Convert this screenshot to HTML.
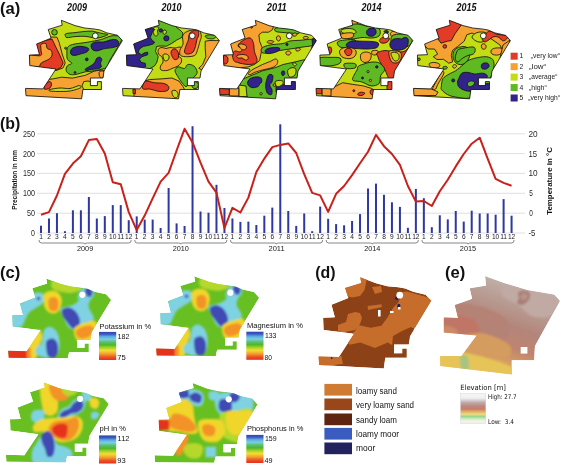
<!DOCTYPE html>
<html><head><meta charset="utf-8"><style>
html,body{margin:0;padding:0;background:#fff;}
svg{display:block;}
text{font-family:"Liberation Sans",Arial,sans-serif;}
.ax{font-size:8.2px;fill:#2a2a2a;}
.mo{font-size:6.6px;fill:#222;}
.yr{font-size:7.9px;fill:#1a1a1a;}
.at{font-size:7.3px;fill:#111;font-weight:bold;}
.lg{font-size:6.8px;fill:#222;}
.pl{font-size:16.8px;font-weight:bold;fill:#111;}
.ty{font-size:10.4px;font-weight:bold;font-style:italic;fill:#111;}
.bl{font-size:9.6px;fill:#111;}
.cb{font-size:7.3px;fill:#111;}
.el{font-size:7.3px;fill:#111;font-family:"DejaVu Sans",sans-serif;}
</style></head><body>
<svg width="568" height="465" viewBox="0 0 568 465">
<defs>
<clipPath id="c1"><path d="M61.3,20.3 L62.2,25.2 L48.2,29.5 L51.1,38.2 L36.6,44 L39.5,54.7 L29.4,55.1 L29.8,65.6 L56,69 L42.9,88.9 L25.5,88.4 L26,95.7 L81.6,98.8 L82.9,89.5 L101.4,89.5 L101.4,81.6 L97.4,81.6 L97.4,85.6 L90.4,85.6 L90.4,78 L103,78 L104,71 L122.4,40.6 L119,36.8 L117.6,35.3 L106.9,32.9 L100.1,30 L94.3,29 L84.7,28 L75,25.6Z"/></clipPath>
<clipPath id="c2"><path d="M158.3,20.3 L159.2,25.2 L145.2,29.5 L148.1,38.2 L133.6,44 L136.5,54.7 L126.4,55.1 L126.8,65.6 L153,69 L139.9,88.9 L122.5,88.4 L123,95.7 L178.6,98.8 L179.9,89.5 L198.4,89.5 L198.4,81.6 L194.4,81.6 L194.4,85.6 L187.4,85.6 L187.4,78 L200,78 L201,71 L219.4,40.6 L216,36.8 L214.6,35.3 L203.9,32.9 L197.1,30 L191.3,29 L181.7,28 L172,25.6Z"/></clipPath>
<clipPath id="c3"><path d="M255.3,20.3 L256.2,25.2 L242.2,29.5 L245.1,38.2 L230.6,44 L233.5,54.7 L223.4,55.1 L223.8,65.6 L250,69 L236.9,88.9 L219.5,88.4 L220,95.7 L275.6,98.8 L276.9,89.5 L295.4,89.5 L295.4,81.6 L291.4,81.6 L291.4,85.6 L284.4,85.6 L284.4,78 L297,78 L298,71 L316.4,40.6 L313,36.8 L311.6,35.3 L300.9,32.9 L294.1,30 L288.3,29 L278.7,28 L269,25.6Z"/></clipPath>
<clipPath id="c4"><path d="M351.8,20.3 L352.7,25.2 L338.7,29.5 L341.6,38.2 L327.1,44 L330,54.7 L319.9,55.1 L320.3,65.6 L346.5,69 L333.4,88.9 L316,88.4 L316.5,95.7 L372.1,98.8 L373.4,89.5 L391.9,89.5 L391.9,81.6 L387.9,81.6 L387.9,85.6 L380.9,85.6 L380.9,78 L393.5,78 L394.5,71 L412.9,40.6 L409.5,36.8 L408.1,35.3 L397.4,32.9 L390.6,30 L384.8,29 L375.2,28 L365.5,25.6Z"/></clipPath>
<clipPath id="c5"><path d="M449.3,20.3 L450.2,25.2 L436.2,29.5 L439.1,38.2 L424.6,44 L427.5,54.7 L417.4,55.1 L417.8,65.6 L444,69 L430.9,88.9 L413.5,88.4 L414,95.7 L469.6,98.8 L470.9,89.5 L489.4,89.5 L489.4,81.6 L485.4,81.6 L485.4,85.6 L478.4,85.6 L478.4,78 L491,78 L492,71 L510.4,40.6 L507,36.8 L505.6,35.3 L494.9,32.9 L488.1,30 L482.3,29 L472.7,28 L463,25.6Z"/></clipPath>
<filter id="bl" x="-20%" y="-20%" width="140%" height="140%"><feGaussianBlur stdDeviation="1.2"/></filter>
<filter id="bl2" x="-20%" y="-20%" width="140%" height="140%"><feGaussianBlur stdDeviation="1.0"/></filter>
<clipPath id="c6"><path d="M46.2,278.38 L47.16,283.59 L32.28,288.16 L35.36,297.41 L19.95,303.57 L23.03,314.95 L12.29,315.37 L12.72,326.53 L40.57,330.15 L26.64,351.3 L8.15,350.77 L8.68,357.68 L67.78,358.32 L69.16,351.94 L88.83,351.94 L88.83,343.54 L84.58,343.54 L84.58,347.79 L77.14,347.79 L77.14,339.71 L90.53,339.71 L91.59,332.27 L111.15,299.96 L107.54,295.92 L106.05,294.32 L94.67,291.77 L87.45,288.69 L81.28,287.63 L71.08,286.56 L60.76,284.01Z"/></clipPath>
<clipPath id="c7"><path d="M194.2,276.18 L195.16,281.39 L180.28,285.96 L183.36,295.21 L167.95,301.37 L171.03,312.75 L160.29,313.17 L160.72,324.33 L188.57,327.95 L174.64,349.1 L156.15,348.57 L156.68,355.48 L215.78,356.12 L217.16,349.74 L236.83,349.74 L236.83,341.34 L232.58,341.34 L232.58,345.59 L225.14,345.59 L225.14,337.51 L238.53,337.51 L239.59,330.07 L259.15,297.76 L255.54,293.72 L254.05,292.12 L242.67,289.57 L235.45,286.49 L229.28,285.43 L219.08,284.36 L208.76,281.81Z"/></clipPath>
<clipPath id="c8"><path d="M43.9,382.38 L44.86,387.59 L29.98,392.16 L33.06,401.41 L17.65,407.57 L20.73,418.95 L9.99,419.37 L10.42,430.53 L38.27,434.15 L24.34,455.3 L5.85,454.77 L6.38,461.68 L65.48,462.32 L66.86,455.94 L86.53,455.94 L86.53,447.54 L82.28,447.54 L82.28,451.79 L74.84,451.79 L74.84,443.71 L88.23,443.71 L89.29,436.27 L108.85,403.96 L105.24,399.92 L103.75,398.32 L92.37,395.77 L85.15,392.69 L78.98,391.63 L68.78,390.56 L58.46,388.01Z"/></clipPath>
<clipPath id="c9"><path d="M192.6,382.88 L193.56,388.09 L178.68,392.66 L181.76,401.91 L166.35,408.07 L169.43,419.45 L158.69,419.87 L159.12,431.03 L186.97,434.65 L173.04,455.8 L154.55,455.27 L155.08,462.18 L214.18,462.82 L215.56,456.44 L235.23,456.44 L235.23,448.04 L230.98,448.04 L230.98,452.29 L223.54,452.29 L223.54,444.21 L236.93,444.21 L237.99,436.77 L257.55,404.46 L253.94,400.42 L252.45,398.82 L241.07,396.27 L233.85,393.19 L227.68,392.13 L217.48,391.06 L207.16,388.51Z"/></clipPath>
<linearGradient id="cbar" x1="0" y1="0" x2="0" y2="1"><stop offset="0" stop-color="#3444b4"/><stop offset="0.08" stop-color="#3c58c0"/><stop offset="0.16" stop-color="#5aa8e0"/><stop offset="0.26" stop-color="#78d0e0"/><stop offset="0.36" stop-color="#5cc070"/><stop offset="0.46" stop-color="#4cb828"/><stop offset="0.56" stop-color="#a8d028"/><stop offset="0.66" stop-color="#f0e030"/><stop offset="0.78" stop-color="#f4a030"/><stop offset="0.9" stop-color="#ec5024"/><stop offset="1" stop-color="#e43020"/></linearGradient>
<clipPath id="c10"><path d="M360.19,277.21 L361.24,282.91 L344.96,287.91 L348.33,298.03 L331.47,304.77 L334.84,317.22 L323.09,317.68 L323.56,329.89 L354.03,333.85 L338.79,356.99 L318.56,356.41 L319.14,364.9 L383.8,368.5 L385.31,357.69 L406.83,357.69 L406.83,348.5 L402.18,348.5 L402.18,353.15 L394.04,353.15 L394.04,344.31 L408.69,344.31 L409.85,336.17 L431.25,300.82 L427.3,296.4 L425.67,294.65 L413.22,291.86 L405.32,288.49 L398.57,287.33 L387.41,286.16 L376.12,283.37Z"/></clipPath>
<linearGradient id="eleg" x1="0" y1="0" x2="0" y2="1"><stop offset="0" stop-color="#f6f6f6"/><stop offset="0.15" stop-color="#f2f0f0"/><stop offset="0.22" stop-color="#d8d4dc"/><stop offset="0.3" stop-color="#c4aaa8"/><stop offset="0.42" stop-color="#b98a80"/><stop offset="0.52" stop-color="#cc7c6a"/><stop offset="0.62" stop-color="#e6b864"/><stop offset="0.69" stop-color="#eedc80"/><stop offset="0.77" stop-color="#94d690"/><stop offset="0.83" stop-color="#c4e8b8"/><stop offset="0.9" stop-color="#eef2e2"/><stop offset="1" stop-color="#f2f2ea"/></linearGradient>
<linearGradient id="elev" x1="0.75" y1="0" x2="0.35" y2="1"><stop offset="0" stop-color="#c8bcb6"/><stop offset="0.25" stop-color="#b9a198"/><stop offset="0.5" stop-color="#b3857a"/><stop offset="0.68" stop-color="#bf8470"/><stop offset="0.82" stop-color="#d59e62"/><stop offset="1" stop-color="#e6c25a"/></linearGradient>
<clipPath id="c11"><path d="M485,276 L486,285.4 L469.6,288.2 L472.1,298.7 L454.8,305.1 L458,318 L443.8,317.4 L443.8,332.6 L476.7,335.4 L461.5,355.9 L440.2,355.9 L440.2,365.9 L511.8,374.4 L511.8,360.3 L534.2,360.3 L535,346 L559.9,301 L554.3,294.4 L527.4,289.9 L505.1,283.2Z"/></clipPath>
</defs>
<g clip-path="url(#c1)">
<path d="M61.3,20.3 L62.2,25.2 L48.2,29.5 L51.1,38.2 L36.6,44 L39.5,54.7 L29.4,55.1 L29.8,65.6 L56,69 L42.9,88.9 L25.5,88.4 L26,95.7 L81.6,98.8 L82.9,89.5 L101.4,89.5 L101.4,81.6 L97.4,81.6 L97.4,85.6 L90.4,85.6 L90.4,78 L103,78 L104,71 L122.4,40.6 L119,36.8 L117.6,35.3 L106.9,32.9 L100.1,30 L94.3,29 L84.7,28 L75,25.6Z" fill="#c3dc14"/>
<path d="M40,80 L52.4,79 L61.6,77.2 L72.5,78.1 L85.3,75.3 L94.5,71 L101.8,70 L106,71 L106,100 L20,100 L20,86Z" fill="#f6a232" stroke="#161310" stroke-width="0.85"/>
<path d="M50,89.5C51.67,89 56.67,88.17 60,88C63.33,87.83 66.83,88.9 70,88.5C73.17,88.1 77.25,85.72 79,85.6C80.75,85.48 82,86.9 80.5,87.8C79,88.7 73.75,90.38 70,91C66.25,91.62 61.33,91.5 58,91.5C54.67,91.5 51.33,91.33 50,91C48.67,90.67 48.33,90 50,89.5Z" fill="#c3dc14" stroke="#161310" stroke-width="0.85"/>
<path d="M44,88.8C43.5,88.03 45,85.22 46,84C47,82.78 49.08,81.33 50,81.5C50.92,81.67 51.67,83.82 51.5,85C51.33,86.18 50.25,87.97 49,88.6C47.75,89.23 44.5,89.57 44,88.8Z" fill="#e23b26" stroke="#161310" stroke-width="0.85"/>
<path d="M83.8,81.6 L88,81 L92,82 L98,80.5 L103,80 L103,90 L84,90 L82,86Z" fill="#c3dc14" stroke="#161310" stroke-width="0.85"/>
<path d="M99.2,72C99.62,71.17 101.12,70.92 102,71C102.88,71.08 104.25,71.5 104.5,72.5C104.75,73.5 104,76.03 103.5,77C103,77.97 102.17,78.47 101.5,78.3C100.83,78.13 99.88,77.05 99.5,76C99.12,74.95 98.78,72.83 99.2,72Z" fill="#f6a232" stroke="#161310" stroke-width="0.85"/>
<path d="M30,40 L52,37 L57,37.3 L59.2,42.6 L62.2,54 L65.2,63 L63,68 L56,70.5 L28,70.5Z" fill="#f6a232" stroke="#161310" stroke-width="0.85"/>
<path d="M34,42 L52.1,39.2 L56,47.4 L59.8,55.1 L63.2,62.9 L61,67.5 L56,70 L28,70 L28,42Z" fill="#e23b26" stroke="#161310" stroke-width="0.85"/>
<path d="M41,44.5C41.8,43.42 44.77,42.85 45.8,43.5C46.83,44.15 46.32,47.27 47.2,48.4C48.08,49.53 50.3,49.18 51.1,50.3C51.9,51.42 52.32,53.65 52,55.1C51.68,56.55 50.97,57.7 49.2,59C47.43,60.3 43.18,61.65 41.4,62.9C39.62,64.15 40.9,65.9 38.5,66.5C36.1,67.1 28.92,68.32 27,66.5C25.08,64.68 24.75,57.42 27,55.6C29.25,53.78 38.17,56.53 40.5,55.6C42.83,54.67 40.92,51.85 41,50C41.08,48.15 40.2,45.58 41,44.5Z" fill="#f6a232" stroke="#161310" stroke-width="0.85"/>
<circle cx="54.5" cy="32.3" r="2.8" fill="#5fb922" stroke="#161310" stroke-width="0.85"/>
<path d="M66.2,33.6C67.82,33.12 71.87,32.97 75,32.6C78.13,32.23 82.1,31.63 85,31.4C87.9,31.17 90.33,31.03 92.4,31.2C94.47,31.37 95.52,31.98 97.4,32.4C99.28,32.82 101.93,33.35 103.7,33.7C105.47,34.05 107.95,34.05 108,34.5C108.05,34.95 105.67,35.82 104,36.4C102.33,36.98 99.93,37.8 98,38C96.07,38.2 94.57,37.88 92.4,37.6C90.23,37.32 87.9,36.47 85,36.3C82.1,36.13 78,36.38 75,36.6C72,36.82 68.62,37.78 67,37.6C65.38,37.42 65.43,36.17 65.3,35.5C65.17,34.83 64.58,34.08 66.2,33.6Z" fill="#5fb922" stroke="#161310" stroke-width="0.85"/>
<path d="M67.5,47.5C68.43,46.05 69.58,45.32 72.5,44.5C75.42,43.68 81.68,43.13 85,42.6C88.32,42.07 89.7,41.82 92.4,41.3C95.1,40.78 98.9,40.12 101.2,39.5C103.5,38.88 104.4,38.22 106.2,37.6C108,36.98 109.93,36.03 112,35.8C114.07,35.57 117.02,35.5 118.6,36.2C120.18,36.9 121.93,37.7 121.5,40C121.07,42.3 117.92,46.67 116,50C114.08,53.33 111.5,57.17 110,60C108.5,62.83 108.47,65.43 107,67C105.53,68.57 103.83,68.68 101.2,69.4C98.57,70.12 93.9,70.88 91.2,71.3C88.5,71.72 87.5,71.38 85,71.9C82.5,72.42 78.7,73.98 76.2,74.4C73.7,74.82 71.67,75.02 70,74.4C68.33,73.78 66.62,72.15 66.2,70.7C65.78,69.25 66.55,66.95 67.5,65.7C68.45,64.45 71.9,64.25 71.9,63.2C71.9,62.15 68.33,61.07 67.5,59.4C66.67,57.73 66.9,55.18 66.9,53.2C66.9,51.22 66.57,48.95 67.5,47.5Z" fill="#5fb922" stroke="#161310" stroke-width="0.85"/>
<circle cx="65.6" cy="48.2" r="1" fill="#5fb922" stroke="#161310" stroke-width="0.85"/>
<path d="M70.6,51.3C70.82,50.27 71.15,49.03 72.5,48.2C73.85,47.37 76.62,46.5 78.7,46.3C80.78,46.1 83.33,46.58 85,47C86.67,47.42 88.4,47.97 88.7,48.8C89,49.63 88.05,51.17 86.8,52C85.55,52.83 83.17,53.23 81.2,53.8C79.23,54.37 76.67,55.3 75,55.4C73.33,55.5 71.93,55.08 71.2,54.4C70.47,53.72 70.38,52.33 70.6,51.3Z" fill="#31238a" stroke="#161310" stroke-width="0.85"/>
<path d="M91.8,43.8C92.63,42.97 94.22,42.3 96.2,42C98.18,41.7 101.42,42.32 103.7,42C105.98,41.68 107.93,40.52 109.9,40.1C111.87,39.68 114.05,39.18 115.5,39.5C116.95,39.82 118.18,40.97 118.6,42C119.02,43.03 119.03,44.77 118,45.7C116.97,46.63 114.78,47.08 112.4,47.6C110.02,48.12 106.2,48.25 103.7,48.8C101.2,49.35 99.17,50.68 97.4,50.9C95.63,51.12 94.13,50.75 93.1,50.1C92.07,49.45 91.42,48.05 91.2,47C90.98,45.95 90.97,44.63 91.8,43.8Z" fill="#31238a" stroke="#161310" stroke-width="0.85"/>
<path d="M96.8,58.2C97.52,57.62 99.07,57 99.9,57.2C100.73,57.4 101.7,58.4 101.8,59.4C101.9,60.4 100.6,61.95 100.5,63.2C100.4,64.45 101.72,65.97 101.2,66.9C100.68,67.83 99.07,68.38 97.4,68.8C95.73,69.22 93.07,69.08 91.2,69.4C89.33,69.72 87.13,70.8 86.2,70.7C85.27,70.6 84.97,69.53 85.6,68.8C86.23,68.07 88.65,67.13 90,66.3C91.35,65.47 92.77,64.73 93.7,63.8C94.63,62.87 95.08,61.63 95.6,60.7C96.12,59.77 96.08,58.78 96.8,58.2Z" fill="#31238a" stroke="#161310" stroke-width="0.85"/>
<circle cx="86.8" cy="59.4" r="1.4" fill="#31238a" stroke="#161310" stroke-width="0.85"/>
<circle cx="75" cy="72.5" r="0.9" fill="#31238a" stroke="#161310" stroke-width="0.85"/>

</g>
<path d="M61.3,20.3 L62.2,25.2 L48.2,29.5 L51.1,38.2 L36.6,44 L39.5,54.7 L29.4,55.1 L29.8,65.6 L56,69 L42.9,88.9 L25.5,88.4 L26,95.7 L81.6,98.8 L82.9,89.5 L101.4,89.5 L101.4,81.6 L97.4,81.6 L97.4,85.6 L90.4,85.6 L90.4,78 L103,78 L104,71 L122.4,40.6 L119,36.8 L117.6,35.3 L106.9,32.9 L100.1,30 L94.3,29 L84.7,28 L75,25.6Z" fill="none" stroke="#161310" stroke-width="0.85"/>
<circle cx="95.3" cy="35.8" r="2.9" fill="#fff" stroke="#161310" stroke-width="0.85"/>
<g clip-path="url(#c2)">
<path d="M158.3,20.3 L159.2,25.2 L145.2,29.5 L148.1,38.2 L133.6,44 L136.5,54.7 L126.4,55.1 L126.8,65.6 L153,69 L139.9,88.9 L122.5,88.4 L123,95.7 L178.6,98.8 L179.9,89.5 L198.4,89.5 L198.4,81.6 L194.4,81.6 L194.4,85.6 L187.4,85.6 L187.4,78 L200,78 L201,71 L219.4,40.6 L216,36.8 L214.6,35.3 L203.9,32.9 L197.1,30 L191.3,29 L181.7,28 L172,25.6Z" fill="#c3dc14"/>
<path d="M150,17 L176,17 L176,27 L180,30 L183,33 L182,37.4 L176.8,40 L171.6,43.5 L166.5,46.2 L160,46 L156.5,46.5 L155.6,51.5 L158.2,56.7 L157,62 L154.5,66 L150,68.5 L145,69 L120,69 L120,25Z" fill="#5fb922" stroke="#161310" stroke-width="0.85"/>
<path d="M153.5,28C154,27.3 155.13,26.88 156,26.8C156.87,26.72 158.45,26.8 158.7,27.5C158.95,28.2 157.62,29.83 157.5,31C157.38,32.17 158.25,33.67 158,34.5C157.75,35.33 156.67,36 156,36C155.33,36 154.5,35.33 154,34.5C153.5,33.67 153.08,32.08 153,31C152.92,29.92 153,28.7 153.5,28Z" fill="#c3dc14" stroke="#161310" stroke-width="0.85"/>
<path d="M163,31C163.25,30.33 164.42,29.92 165,30C165.58,30.08 166.42,30.83 166.5,31.5C166.58,32.17 166,33.58 165.5,34C165,34.42 163.92,34.5 163.5,34C163.08,33.5 162.75,31.67 163,31Z" fill="#c3dc14" stroke="#161310" stroke-width="0.85"/>
<circle cx="160.9" cy="30.5" r="1.7" fill="#31238a" stroke="#161310" stroke-width="0.85"/>
<circle cx="166.4" cy="38.3" r="2.6" fill="#31238a" stroke="#161310" stroke-width="0.85"/>
<path d="M140,24 L154.8,29.5 L152.3,32.2 L150.3,37.4 L152.3,40.6 L154.5,42 L153.5,43.8 L149.7,45.1 L143.2,46.4 L139.4,49 L138.1,52.2 L141.3,54.8 L144.5,52.8 L147.7,52.2 L147.7,54.8 L141.9,56.7 L139.4,59.3 L141.3,62.5 L145.2,63.2 L145.8,66.4 L143.2,67.7 L140,71 L118,71 L118,30Z" fill="#31238a" stroke="#161310" stroke-width="0.85"/>
<path d="M158.5,49C159.08,47.92 160.75,47.58 162,47.5C163.25,47.42 164.67,48.5 166,48.5C167.33,48.5 168.5,47.58 170,47.5C171.5,47.42 173.33,48.08 175,48C176.67,47.92 178.83,46.83 180,47C181.17,47.17 181.83,48 182,49C182.17,50 181.67,51.83 181,53C180.33,54.17 178,55.17 178,56C178,56.83 180.43,57 181,58C181.57,59 181.9,60.67 181.4,62C180.9,63.33 179.57,64.92 178,66C176.43,67.08 173.83,67.75 172,68.5C170.17,69.25 168.83,70.25 167,70.5C165.17,70.75 162.08,70.75 161,70C159.92,69.25 160.17,67.33 160.5,66C160.83,64.67 162.75,63.5 163,62C163.25,60.5 162.75,58.33 162,57C161.25,55.67 159.08,55.33 158.5,54C157.92,52.67 157.92,50.08 158.5,49Z" fill="#f6a232" stroke="#161310" stroke-width="0.85"/>
<path d="M163,55C163.25,53.92 165,53.83 166,54C167,54.17 168.67,55 169,56C169.33,57 168.75,59.25 168,60C167.25,60.75 165.33,61.33 164.5,60.5C163.67,59.67 162.75,56.08 163,55Z" fill="#c3dc14" stroke="#161310" stroke-width="0.85"/>
<path d="M182.6,36.1C183.07,34.13 184.4,33.17 185.8,32.2C187.2,31.23 188.85,30.73 191,30.3C193.15,29.87 196.98,28.63 198.7,29.6C200.42,30.57 201.08,34.17 201.3,36.1C201.52,38.03 200.65,38.83 200,41.2C199.35,43.57 198.27,47.93 197.4,50.3C196.53,52.67 196.52,54.33 194.8,55.4C193.08,56.47 189.47,56.7 187.1,56.7C184.73,56.7 181.78,56.52 180.6,55.4C179.42,54.28 179.6,51.9 180,50C180.4,48.1 182.57,46.32 183,44C183.43,41.68 182.13,38.07 182.6,36.1Z" fill="#f6a232" stroke="#161310" stroke-width="0.85"/>
<path d="M191.6,31.5C193,30.75 196.22,29.75 197.4,30.3C198.58,30.85 198.8,33.2 198.7,34.8C198.6,36.4 197.33,37.97 196.8,39.9C196.27,41.83 196.15,44.35 195.5,46.4C194.85,48.45 194.2,50.92 192.9,52.2C191.6,53.48 189.1,54.1 187.7,54.1C186.3,54.1 184.82,53.48 184.5,52.2C184.18,50.92 185.15,48.45 185.8,46.4C186.45,44.35 187.87,41.83 188.4,39.9C188.93,37.97 188.47,36.2 189,34.8C189.53,33.4 190.2,32.25 191.6,31.5Z" fill="#e23b26" stroke="#161310" stroke-width="0.85"/>
<path d="M172,50C172.67,49.33 174.08,48.83 175,49C175.92,49.17 176.88,50 177.5,51C178.12,52 178.7,53.67 178.7,55C178.7,56.33 178.28,58.28 177.5,59C176.72,59.72 174.92,59.8 174,59.3C173.08,58.8 172.5,57.05 172,56C171.5,54.95 171,54 171,53C171,52 171.33,50.67 172,50Z" fill="#e23b26" stroke="#161310" stroke-width="0.85"/>
<path d="M205.2,41.2 L210,40.5 L216.8,40.6 L221,40 L206,72 L198.7,68.3 L202.6,64.5 L205.8,56.7 L205.2,47.7Z" fill="#f6a232" stroke="#161310" stroke-width="0.85"/>
<path d="M205,36C205.33,35.38 208.25,34.88 210,34.8C211.75,34.72 214.83,34.87 215.5,35.5C216.17,36.13 215.25,38.1 214,38.6C212.75,39.1 209.5,38.93 208,38.5C206.5,38.07 204.67,36.62 205,36Z" fill="#5fb922" stroke="#161310" stroke-width="0.85"/>
<path d="M175,70.8C175,69.08 176.62,67.28 178.2,66.9C179.78,66.52 182.92,68.9 184.5,68.5C186.08,68.1 186.12,64.9 187.7,64.5C189.28,64.1 192.42,64.78 194,66.1C195.58,67.42 197.2,70.55 197.2,72.4C197.2,74.25 195.2,75.77 194,77.2C192.8,78.63 191.32,79.42 190,81C188.68,82.58 187.53,86.55 186.1,86.7C184.67,86.85 182.72,83.48 181.4,81.9C180.08,80.32 179.27,79.05 178.2,77.2C177.13,75.35 175,72.52 175,70.8Z" fill="#5fb922" stroke="#161310" stroke-width="0.85"/>
<path d="M137,84 L143.4,81.1 L149.7,79.6 L162.4,78.8 L171.9,78 L179,81.1 L183,86.7 L186,92 L186,100 L134,100 L134,86Z" fill="#f6a232" stroke="#161310" stroke-width="0.85"/>
<path d="M142.6,85.9C142.98,84.57 143.73,81.63 145.7,81.1C147.67,80.57 151.35,82.3 154.4,82.7C157.45,83.1 161.62,82.83 164,83.5C166.38,84.17 168.18,85.5 168.7,86.7C169.22,87.9 168.68,89.92 167.1,90.7C165.52,91.48 162.1,91.67 159.2,91.4C156.3,91.13 152.33,89.48 149.7,89.1C147.07,88.72 144.58,89.63 143.4,89.1C142.22,88.57 142.22,87.23 142.6,85.9Z" fill="#e23b26" stroke="#161310" stroke-width="0.85"/>
<path d="M133,89 L135.4,89.5 L135.4,93.8 L133,93.5Z" fill="#e23b26" stroke="#161310" stroke-width="0.85"/>
<path d="M172,91C172.5,90.12 174.97,90.03 176,90.7C177.03,91.37 178.2,93.82 178.2,95C178.2,96.18 176.87,97.63 176,97.8C175.13,97.97 173.67,97.13 173,96C172.33,94.87 171.5,91.88 172,91Z" fill="#c3dc14" stroke="#161310" stroke-width="0.85"/>
<path d="M191,82C191.33,80.92 193.75,81.17 195,81.5C196.25,81.83 198.17,82.92 198.5,84C198.83,85.08 197.92,87.33 197,88C196.08,88.67 194,89 193,88C192,87 190.67,83.08 191,82Z" fill="#5fb922" stroke="#161310" stroke-width="0.85"/>

</g>
<path d="M158.3,20.3 L159.2,25.2 L145.2,29.5 L148.1,38.2 L133.6,44 L136.5,54.7 L126.4,55.1 L126.8,65.6 L153,69 L139.9,88.9 L122.5,88.4 L123,95.7 L178.6,98.8 L179.9,89.5 L198.4,89.5 L198.4,81.6 L194.4,81.6 L194.4,85.6 L187.4,85.6 L187.4,78 L200,78 L201,71 L219.4,40.6 L216,36.8 L214.6,35.3 L203.9,32.9 L197.1,30 L191.3,29 L181.7,28 L172,25.6Z" fill="none" stroke="#161310" stroke-width="0.85"/>
<circle cx="192.3" cy="35.8" r="2.9" fill="#fff" stroke="#161310" stroke-width="0.85"/>
<g clip-path="url(#c3)">
<path d="M255.3,20.3 L256.2,25.2 L242.2,29.5 L245.1,38.2 L230.6,44 L233.5,54.7 L223.4,55.1 L223.8,65.6 L250,69 L236.9,88.9 L219.5,88.4 L220,95.7 L275.6,98.8 L276.9,89.5 L295.4,89.5 L295.4,81.6 L291.4,81.6 L291.4,85.6 L284.4,85.6 L284.4,78 L297,78 L298,71 L316.4,40.6 L313,36.8 L311.6,35.3 L300.9,32.9 L294.1,30 L288.3,29 L278.7,28 L269,25.6Z" fill="#c3dc14"/>
<path d="M250,17 L275,22 L272.5,29.6 L268.6,32.2 L262.2,32.2 L258.9,34.8 L259.6,41.2 L262.2,47.7 L260.9,54.1 L259.6,60.6 L254.4,64.5 L248,67 L215,70 L215,20Z" fill="#f6a232" stroke="#161310" stroke-width="0.85"/>
<circle cx="240" cy="29.5" r="1.1" fill="#5fb922" stroke="#161310" stroke-width="0.85"/>
<circle cx="251.5" cy="27.3" r="0.9" fill="#5fb922" stroke="#161310" stroke-width="0.85"/>
<path d="M240.9,41.9C242.57,40.57 246.18,38.43 248,38C249.82,37.57 250.83,38.12 251.8,39.3C252.77,40.48 253.37,43.07 253.8,45.1C254.23,47.13 253.87,49.13 254.4,51.5C254.93,53.87 256.78,57.35 257,59.3C257.22,61.25 256.98,62.33 255.7,63.2C254.42,64.07 251.45,64.4 249.3,64.5C247.15,64.6 244.75,64.13 242.8,63.8C240.85,63.47 239.1,63.03 237.6,62.5C236.1,61.97 234.65,62 233.8,60.6C232.95,59.2 232.28,55.7 232.5,54.1C232.72,52.5 233.85,51.35 235.1,51C236.35,50.65 238.85,52.33 240,52C241.15,51.67 242.33,50 242,49C241.67,48 238.18,47.18 238,46C237.82,44.82 239.23,43.23 240.9,41.9Z" fill="#e23b26" stroke="#161310" stroke-width="0.85"/>
<path d="M238.5,44.8C238.75,43.97 241.67,43.92 243,44.2C244.33,44.48 246.17,45.62 246.5,46.5C246.83,47.38 245.83,49.05 245,49.5C244.17,49.95 242.58,49.98 241.5,49.2C240.42,48.42 238.25,45.63 238.5,44.8Z" fill="#f6a232" stroke="#161310" stroke-width="0.85"/>
<path d="M237,55.5C237.83,54.92 241.25,54.42 243,54.5C244.75,54.58 246.67,55.25 247.5,56C248.33,56.75 248.33,58.33 248,59C247.67,59.67 246.5,60.17 245.5,60C244.5,59.83 243.25,58.33 242,58C240.75,57.67 238.83,58.42 238,58C237.17,57.58 236.17,56.08 237,55.5Z" fill="#f6a232" stroke="#161310" stroke-width="0.85"/>
<path d="M223.5,56C224.08,54.83 226.25,55.92 227,56.5C227.75,57.08 228,58.38 228,59.5C228,60.62 227.75,62.53 227,63.2C226.25,63.87 224.08,64.7 223.5,63.5C222.92,62.3 222.92,57.17 223.5,56Z" fill="#e23b26" stroke="#161310" stroke-width="0.85"/>
<path d="M275,28.5C276.17,27.75 280,27.08 283,27C286,26.92 290.17,27.42 293,28C295.83,28.58 299.17,29.58 300,30.5C300.83,31.42 299.67,33.08 298,33.5C296.33,33.92 292.5,33.17 290,33C287.5,32.83 285.33,32.75 283,32.5C280.67,32.25 277.33,32.17 276,31.5C274.67,30.83 273.83,29.25 275,28.5Z" fill="#5fb922" stroke="#161310" stroke-width="0.85"/>
<path d="M262,48C263.33,46.75 266.5,45.75 270,45C273.5,44.25 279.67,44.17 283,43.5C286.33,42.83 287.17,41.53 290,41C292.83,40.47 296,40.55 300,40.3C304,40.05 311.67,38.72 314,39.5C316.33,40.28 315.83,43.75 314,45C312.17,46.25 307,46.33 303,47C299,47.67 293.83,48.42 290,49C286.17,49.58 283.67,49.83 280,50.5C276.33,51.17 271,52.67 268,53C265,53.33 263,53.33 262,52.5C261,51.67 260.67,49.25 262,48Z" fill="#5fb922" stroke="#161310" stroke-width="0.85"/>
<path d="M265.5,50C266.17,49.17 268.08,48.42 270,48C271.92,47.58 275.33,47.33 277,47.5C278.67,47.67 280.17,48.25 280,49C279.83,49.75 277.67,51.25 276,52C274.33,52.75 271.67,53.33 270,53.5C268.33,53.67 266.75,53.58 266,53C265.25,52.42 264.83,50.83 265.5,50Z" fill="#31238a" stroke="#161310" stroke-width="0.85"/>
<path d="M312,39 L316,38 L316,50 L311,50 L312.5,45Z" fill="#31238a" stroke="#161310" stroke-width="0.85"/>
<path d="M267.3,41.5C267.63,41.1 268.92,40.62 270,40.6C271.08,40.58 273.47,40.97 273.8,41.4C274.13,41.83 272.97,42.93 272,43.2C271.03,43.47 268.78,43.28 268,43C267.22,42.72 266.97,41.9 267.3,41.5Z" fill="#f6a232" stroke="#161310" stroke-width="0.85"/>
<path d="M276.5,37C276.83,36.3 278.33,35.55 279,35.8C279.67,36.05 280.5,37.63 280.5,38.5C280.5,39.37 279.58,40.75 279,41C278.42,41.25 277.42,40.67 277,40C276.58,39.33 276.17,37.7 276.5,37Z" fill="#f6a232" stroke="#161310" stroke-width="0.85"/>
<path d="M286,52C286.42,51.42 288.17,50.83 289,51C289.83,51.17 291,52.33 291,53C291,53.67 289.75,54.75 289,55C288.25,55.25 287,55 286.5,54.5C286,54 285.58,52.58 286,52Z" fill="#f6a232" stroke="#161310" stroke-width="0.85"/>
<path d="M296,48.5C296.5,48.08 298.25,47.83 299,48C299.75,48.17 300.67,49 300.5,49.5C300.33,50 298.75,50.83 298,51C297.25,51.17 296.33,50.92 296,50.5C295.67,50.08 295.5,48.92 296,48.5Z" fill="#f6a232" stroke="#161310" stroke-width="0.85"/>
<path d="M303.5,37C304,36.58 306.17,36.33 307,36.5C307.83,36.67 308.67,37.53 308.5,38C308.33,38.47 306.75,39.13 306,39.3C305.25,39.47 304.42,39.38 304,39C303.58,38.62 303,37.42 303.5,37Z" fill="#f6a232" stroke="#161310" stroke-width="0.85"/>
<path d="M292.5,34C292.92,33.53 294.75,32.92 295.5,33C296.25,33.08 297,34 297,34.5C297,35 296.17,35.78 295.5,36C294.83,36.22 293.5,36.13 293,35.8C292.5,35.47 292.08,34.47 292.5,34Z" fill="#f6a232" stroke="#161310" stroke-width="0.85"/>
<circle cx="287" cy="44.5" r="1.1" fill="#31238a" stroke="#161310" stroke-width="0.85"/>
<path d="M248.3,73.2C248.82,72.28 251.42,70.35 253,69.3C254.58,68.25 256.22,67.7 257.8,66.9C259.38,66.1 260.38,65.43 262.5,64.5C264.62,63.57 268.38,62.22 270.5,61.3C272.62,60.38 274.02,59.13 275.2,59C276.38,58.87 277.33,59.58 277.6,60.5C277.87,61.42 277.73,63.3 276.8,64.5C275.87,65.7 274.38,66.78 272,67.7C269.62,68.62 265.4,69.22 262.5,70C259.6,70.78 256.7,71.6 254.6,72.4C252.5,73.2 250.95,74.67 249.9,74.8C248.85,74.93 247.78,74.12 248.3,73.2Z" fill="#f6a232" stroke="#161310" stroke-width="0.85"/>
<path d="M240,80 L243.5,78.8 L253,74.8 L262.5,70.8 L275.2,67.7 L283.1,64.5 L294.2,62.1 L305,59.5 L310,59 L300,100 L250,100 L246.7,96 L240,88Z" fill="#5fb922" stroke="#161310" stroke-width="0.85"/>
<path d="M247.5,83.5C247.25,82.05 248.45,79.9 249.9,78.8C251.35,77.7 254.35,77.03 256.2,76.9C258.05,76.77 260.08,77.17 261,78C261.92,78.83 261.97,80.85 261.7,81.9C261.43,82.95 260.05,83.5 259.4,84.3C258.75,85.1 259.13,86.17 257.8,86.7C256.47,87.23 253.12,88.03 251.4,87.5C249.68,86.97 247.75,84.95 247.5,83.5Z" fill="#31238a" stroke="#161310" stroke-width="0.85"/>
<path d="M268.9,74.8C269.95,74 272.28,74.42 272.8,75.6C273.32,76.78 272.52,80.32 272,81.9C271.48,83.48 269.7,83.77 269.7,85.1C269.7,86.43 271.73,88.32 272,89.9C272.27,91.48 272.08,94.08 271.3,94.6C270.52,95.12 268.23,94.32 267.3,93C266.37,91.68 265.83,88.8 265.7,86.7C265.57,84.6 265.97,82.38 266.5,80.4C267.03,78.42 267.85,75.6 268.9,74.8Z" fill="#31238a" stroke="#161310" stroke-width="0.85"/>
<path d="M281.5,72C281.75,71.23 283.47,70.67 284,71C284.53,71.33 284.95,73.23 284.7,74C284.45,74.77 283.03,75.93 282.5,75.6C281.97,75.27 281.25,72.77 281.5,72Z" fill="#31238a" stroke="#161310" stroke-width="0.85"/>
<path d="M276,85.5 L285,84.5 L290,82 L297,80 L298,92 L276,92Z" fill="#31238a" stroke="#161310" stroke-width="0.85"/>
<path d="M275.2,82C275.53,80.95 277.68,80.48 279,80.4C280.32,80.32 282.6,80.73 283.1,81.5C283.6,82.27 283.02,84.13 282,85C280.98,85.87 278.13,87.2 277,86.7C275.87,86.2 274.87,83.05 275.2,82Z" fill="#c3dc14" stroke="#161310" stroke-width="0.85"/>
<circle cx="274.4" cy="85.1" r="1.3" fill="#f6a232" stroke="#161310" stroke-width="0.85"/>
<path d="M287.9,70C288.57,68.95 290.68,67.87 292,67.7C293.32,67.53 295.3,67.78 295.8,69C296.3,70.22 295.97,73.63 295,75C294.03,76.37 291.17,77.37 290,77.2C288.83,77.03 288.35,75.2 288,74C287.65,72.8 287.23,71.05 287.9,70Z" fill="#c3dc14" stroke="#161310" stroke-width="0.85"/>
<path d="M292.6,63.5C292.68,62.97 294.33,62.73 295,62.9C295.67,63.07 296.68,63.97 296.6,64.5C296.52,65.03 295.17,66.27 294.5,66.1C293.83,65.93 292.52,64.03 292.6,63.5Z" fill="#c3dc14" stroke="#161310" stroke-width="0.85"/>
<circle cx="261" cy="93.8" r="1.2" fill="#c3dc14" stroke="#161310" stroke-width="0.85"/>
<path d="M238.8,85 L246,86 L247,96.5 L238.8,96.5Z" fill="#c3dc14" stroke="#161310" stroke-width="0.85"/>
<path d="M229.3,88 L238.8,88.3 L238.8,96 L229.3,96Z" fill="#f6a232" stroke="#161310" stroke-width="0.85"/>
<path d="M219,88.5 L229.3,89 L229.3,94.6 L219,94.6Z" fill="#e23b26" stroke="#161310" stroke-width="0.85"/>

</g>
<path d="M255.3,20.3 L256.2,25.2 L242.2,29.5 L245.1,38.2 L230.6,44 L233.5,54.7 L223.4,55.1 L223.8,65.6 L250,69 L236.9,88.9 L219.5,88.4 L220,95.7 L275.6,98.8 L276.9,89.5 L295.4,89.5 L295.4,81.6 L291.4,81.6 L291.4,85.6 L284.4,85.6 L284.4,78 L297,78 L298,71 L316.4,40.6 L313,36.8 L311.6,35.3 L300.9,32.9 L294.1,30 L288.3,29 L278.7,28 L269,25.6Z" fill="none" stroke="#161310" stroke-width="0.85"/>
<circle cx="289.3" cy="35.8" r="2.9" fill="#fff" stroke="#161310" stroke-width="0.85"/>
<g clip-path="url(#c4)">
<path d="M351.8,20.3 L352.7,25.2 L338.7,29.5 L341.6,38.2 L327.1,44 L330,54.7 L319.9,55.1 L320.3,65.6 L346.5,69 L333.4,88.9 L316,88.4 L316.5,95.7 L372.1,98.8 L373.4,89.5 L391.9,89.5 L391.9,81.6 L387.9,81.6 L387.9,85.6 L380.9,85.6 L380.9,78 L393.5,78 L394.5,71 L412.9,40.6 L409.5,36.8 L408.1,35.3 L397.4,32.9 L390.6,30 L384.8,29 L375.2,28 L365.5,25.6Z" fill="#c3dc14"/>
<path d="M350,18 L358,20 L357,25.7 L351.7,25.7Z" fill="#f6a232" stroke="#161310" stroke-width="0.85"/>
<path d="M349,25C351.33,24.33 355.17,23.83 358,24C360.83,24.17 363.17,25.5 366,26C368.83,26.5 372.67,26.33 375,27C377.33,27.67 379.33,28.5 380,30C380.67,31.5 380.33,34.67 379,36C377.67,37.33 374.83,37.75 372,38C369.17,38.25 365.17,37.33 362,37.5C358.83,37.67 355.83,38.92 353,39C350.17,39.08 347.17,38.83 345,38C342.83,37.17 340.17,35.67 340,34C339.83,32.33 342.5,29.5 344,28C345.5,26.5 346.67,25.67 349,25Z" fill="#5fb922" stroke="#161310" stroke-width="0.85"/>
<path d="M341,30C341.67,29.17 345.83,28.58 348,28.5C350.17,28.42 352.67,28.83 354,29.5C355.33,30.17 356.33,31.75 356,32.5C355.67,33.25 354,33.83 352,34C350,34.17 345.83,34.17 344,33.5C342.17,32.83 340.33,30.83 341,30Z" fill="#c3dc14" stroke="#161310" stroke-width="0.85"/>
<path d="M340.7,34.5C341.37,33.67 343.95,33.22 346,33C348.05,32.78 351.83,32.53 353,33.2C354.17,33.87 353.83,36.1 353,37C352.17,37.9 349.83,38.43 348,38.6C346.17,38.77 343.22,38.68 342,38C340.78,37.32 340.03,35.33 340.7,34.5Z" fill="#f6a232" stroke="#161310" stroke-width="0.85"/>
<path d="M366.5,31.5C366.83,30.3 368.58,28.72 370,28.3C371.42,27.88 374,28.22 375,29C376,29.78 376.33,31.82 376,33C375.67,34.18 374.33,35.68 373,36.1C371.67,36.52 369.08,36.27 368,35.5C366.92,34.73 366.17,32.7 366.5,31.5Z" fill="#31238a" stroke="#161310" stroke-width="0.85"/>
<path d="M384,31.5C384,30.97 385.75,30.22 386.5,30.3C387.25,30.38 388.5,31.47 388.5,32C388.5,32.53 387.25,33.58 386.5,33.5C385.75,33.42 384,32.03 384,31.5Z" fill="#31238a" stroke="#161310" stroke-width="0.85"/>
<path d="M337.5,42C338.33,40.83 342.08,40.33 345,40C347.92,39.67 353.23,39.17 355,40C356.77,40.83 356.43,43.72 355.6,45C354.77,46.28 352.6,47.37 350,47.7C347.4,48.03 342.08,47.95 340,47C337.92,46.05 336.67,43.17 337.5,42Z" fill="#5fb922" stroke="#161310" stroke-width="0.85"/>
<path d="M346.5,44C347.17,42.92 349.42,41.47 352,41C354.58,40.53 358.67,41.12 362,41.2C365.33,41.28 369.3,41.2 372,41.5C374.7,41.8 377.37,42 378.2,43C379.03,44 378.7,46.5 377,47.5C375.3,48.5 371.5,48.83 368,49C364.5,49.17 359.33,48.75 356,48.5C352.67,48.25 349.58,48.25 348,47.5C346.42,46.75 345.83,45.08 346.5,44Z" fill="#31238a" stroke="#161310" stroke-width="0.85"/>
<path d="M379.5,40C379.92,39.15 381.4,37.73 383,37.4C384.6,37.07 388.27,37.32 389.1,38C389.93,38.68 388.85,40.63 388,41.5C387.15,42.37 385.25,43.03 384,43.2C382.75,43.37 381.25,43.03 380.5,42.5C379.75,41.97 379.08,40.85 379.5,40Z" fill="#e23b26" stroke="#161310" stroke-width="0.85"/>
<path d="M390.4,33.5C390.57,32.42 392.48,31.15 394,30.9C395.52,30.65 398.83,31.15 399.5,32C400.17,32.85 399.08,35.1 398,36C396.92,36.9 394.27,37.82 393,37.4C391.73,36.98 390.23,34.58 390.4,33.5Z" fill="#f6a232" stroke="#161310" stroke-width="0.85"/>
<path d="M392,36C393.67,34.17 398.67,34 402,34C405.33,34 410.67,34.17 412,36C413.33,37.83 412,43 410,45C408,47 403,48 400,48C397,48 393.33,47 392,45C390.67,43 390.33,37.83 392,36Z" fill="#5fb922" stroke="#161310" stroke-width="0.85"/>
<path d="M389.8,44C389.97,42.42 391.63,40.42 393,39.5C394.37,38.58 396.5,38.58 398,38.5C399.5,38.42 401,39.18 402,39C403,38.82 403.03,37.48 404,37.4C404.97,37.32 407.13,37.4 407.8,38.5C408.47,39.6 408.47,42.33 408,44C407.53,45.67 406.67,47.45 405,48.5C403.33,49.55 400.17,50.22 398,50.3C395.83,50.38 393.37,50.05 392,49C390.63,47.95 389.63,45.58 389.8,44Z" fill="#31238a" stroke="#161310" stroke-width="0.85"/>
<path d="M327.8,48C328.22,47.17 329.85,46.67 330.5,47C331.15,47.33 331.7,48.92 331.7,50C331.7,51.08 331.12,53.17 330.5,53.5C329.88,53.83 328.45,52.92 328,52C327.55,51.08 327.38,48.83 327.8,48Z" fill="#e23b26" stroke="#161310" stroke-width="0.85"/>
<path d="M340,50C340.83,48.92 343,47.83 345,47.5C347,47.17 350.17,47.42 352,48C353.83,48.58 355.5,49.67 356,51C356.5,52.33 356,54.73 355,56C354,57.27 352,58.35 350,58.6C348,58.85 344.67,58.27 343,57.5C341.33,56.73 340.5,55.25 340,54C339.5,52.75 339.17,51.08 340,50Z" fill="#f6a232" stroke="#161310" stroke-width="0.85"/>
<path d="M344.6,51C344.77,49.82 346.82,48.47 348,48.3C349.18,48.13 351.2,48.97 351.7,50C352.2,51.03 351.78,53.6 351,54.5C350.22,55.4 348.07,55.98 347,55.4C345.93,54.82 344.43,52.18 344.6,51Z" fill="#e23b26" stroke="#161310" stroke-width="0.85"/>
<path d="M361,54C361.83,52.67 364.33,52 366,52C367.67,52 370.33,52.67 371,54C371.67,55.33 371,58.58 370,60C369,61.42 366.5,62.5 365,62.5C363.5,62.5 361.67,61.42 361,60C360.33,58.58 360.17,55.33 361,54Z" fill="#f6a232" stroke="#161310" stroke-width="0.85"/>
<path d="M372,51C372.83,50.42 375.92,50.17 377,50.5C378.08,50.83 378.83,52.25 378.5,53C378.17,53.75 376.08,54.83 375,55C373.92,55.17 372.5,54.67 372,54C371.5,53.33 371.17,51.58 372,51Z" fill="#f6a232" stroke="#161310" stroke-width="0.85"/>
<path d="M320,58C321.67,56.73 326.67,57.4 330,57.4C333.33,57.4 338.33,57.07 340,58C341.67,58.93 341.33,61.72 340,63C338.67,64.28 335.33,65.37 332,65.7C328.67,66.03 322,66.28 320,65C318,63.72 318.33,59.27 320,58Z" fill="#5fb922" stroke="#161310" stroke-width="0.85"/>
<path d="M344,64C344.67,63.15 348.07,63.2 350,63.2C351.93,63.2 354.77,63.2 355.6,64C356.43,64.8 356.6,67.28 355,68C353.4,68.72 347.83,68.97 346,68.3C344.17,67.63 343.33,64.85 344,64Z" fill="#5fb922" stroke="#161310" stroke-width="0.85"/>
<path d="M377,53C378.17,51.92 382,50.67 385,50.5C388,50.33 391.67,51.92 395,52C398.33,52.08 402,52.33 405,51C408,49.67 414.17,39.17 413,44C411.83,48.83 401.83,74 398,80C394.17,86 392.17,81.67 390,80C387.83,78.33 386.67,73 385,70C383.33,67 381.17,64.17 380,62C378.83,59.83 378.5,58.5 378,57C377.5,55.5 375.83,54.08 377,53Z" fill="#e23b26" stroke="#161310" stroke-width="0.85"/>
<path d="M389,51.5C389.83,49.83 394,50.75 396,51C398,51.25 400.25,51.5 401,53C401.75,54.5 401.33,58.33 400.5,60C399.67,61.67 397.58,62.83 396,63C394.42,63.17 392.17,62.92 391,61C389.83,59.08 388.17,53.17 389,51.5Z" fill="#f6a232" stroke="#161310" stroke-width="0.85"/>
<path d="M391,53C391.58,52.08 394.67,52.17 396,52.5C397.33,52.83 398.58,53.83 399,55C399.42,56.17 399.17,58.5 398.5,59.5C397.83,60.5 396,61.25 395,61C394,60.75 393.17,59.33 392.5,58C391.83,56.67 390.42,53.92 391,53Z" fill="#c3dc14" stroke="#161310" stroke-width="0.85"/>
<path d="M357,70C357.78,68.42 357.18,67.15 358.5,66.1C359.82,65.05 362.78,64.37 364.9,63.7C367.02,63.03 368.83,62.23 371.2,62.1C373.57,61.97 376.85,61.7 379.1,62.9C381.35,64.1 384.43,67.18 384.7,69.3C384.97,71.42 381.63,73.23 380.7,75.6C379.77,77.97 380.68,81.78 379.1,83.5C377.52,85.22 374.1,86.17 371.2,85.9C368.3,85.63 364.73,82.82 361.7,81.9C358.67,80.98 354.32,81.45 353,80.4C351.68,79.35 353.13,77.33 353.8,75.6C354.47,73.87 356.22,71.58 357,70Z" fill="#5fb922" stroke="#161310" stroke-width="0.85"/>
<circle cx="376.8" cy="66.9" r="1.2" fill="#31238a" stroke="#161310" stroke-width="0.85"/>
<circle cx="362.5" cy="78" r="1" fill="#31238a" stroke="#161310" stroke-width="0.85"/>
<circle cx="368" cy="71.6" r="1.1" fill="#f6a232" stroke="#161310" stroke-width="0.85"/>
<circle cx="370.4" cy="80.4" r="1.1" fill="#f6a232" stroke="#161310" stroke-width="0.85"/>
<path d="M331,88 L334.8,86.7 L342.7,82.7 L352.2,84.3 L363.3,85.9 L371.2,88.3 L376,91 L378,100 L330,100Z" fill="#f6a232" stroke="#161310" stroke-width="0.85"/>
<path d="M357.7,93.8C358.12,93.3 359.8,92.3 361,92.2C362.2,92.1 364.73,92.67 364.9,93.2C365.07,93.73 363.07,95.07 362,95.4C360.93,95.73 359.22,95.47 358.5,95.2C357.78,94.93 357.28,94.3 357.7,93.8Z" fill="#e23b26" stroke="#161310" stroke-width="0.85"/>
<circle cx="353.8" cy="90.7" r="1" fill="#e23b26" stroke="#161310" stroke-width="0.85"/>
<path d="M370.4,90.5C370.9,89.82 373.07,89.22 373.6,89.9C374.13,90.58 374.1,93.92 373.6,94.6C373.1,95.28 371.13,94.68 370.6,94C370.07,93.32 369.9,91.18 370.4,90.5Z" fill="#e23b26" stroke="#161310" stroke-width="0.85"/>
<path d="M315.5,88.3 L322.1,88.5 L322.1,93.8 L315.5,93.8Z" fill="#e23b26" stroke="#161310" stroke-width="0.85"/>
<path d="M322.1,88.3 L331,88.3 L331,96 L322.1,96Z" fill="#f6a232" stroke="#161310" stroke-width="0.85"/>
<path d="M387,79 L393,79 L393,90 L387,90Z" fill="#e23b26" stroke="#161310" stroke-width="0.85"/>

</g>
<path d="M351.8,20.3 L352.7,25.2 L338.7,29.5 L341.6,38.2 L327.1,44 L330,54.7 L319.9,55.1 L320.3,65.6 L346.5,69 L333.4,88.9 L316,88.4 L316.5,95.7 L372.1,98.8 L373.4,89.5 L391.9,89.5 L391.9,81.6 L387.9,81.6 L387.9,85.6 L380.9,85.6 L380.9,78 L393.5,78 L394.5,71 L412.9,40.6 L409.5,36.8 L408.1,35.3 L397.4,32.9 L390.6,30 L384.8,29 L375.2,28 L365.5,25.6Z" fill="none" stroke="#161310" stroke-width="0.85"/>
<circle cx="385.8" cy="35.8" r="2.9" fill="#fff" stroke="#161310" stroke-width="0.85"/>
<g clip-path="url(#c5)">
<path d="M449.3,20.3 L450.2,25.2 L436.2,29.5 L439.1,38.2 L424.6,44 L427.5,54.7 L417.4,55.1 L417.8,65.6 L444,69 L430.9,88.9 L413.5,88.4 L414,95.7 L469.6,98.8 L470.9,89.5 L489.4,89.5 L489.4,81.6 L485.4,81.6 L485.4,85.6 L478.4,85.6 L478.4,78 L491,78 L492,71 L510.4,40.6 L507,36.8 L505.6,35.3 L494.9,32.9 L488.1,30 L482.3,29 L472.7,28 L463,25.6Z" fill="#f6a232"/>
<path d="M448.7,18 L462,24 L455.2,33.5 L451.3,40.6 L447.4,41.2 L441,43.2 L437.7,38.6 L436,28Z" fill="#e23b26" stroke="#161310" stroke-width="0.85"/>
<path d="M420,44 L424.2,45.1 L428,49 L434.5,49 L437.7,54.1 L433.2,56.7 L437,59.5 L443.5,59.3 L448.7,63.2 L452.6,61.9 L451.3,55.4 L452.6,50.3 L457.7,46.4 L464.2,41.2 L466.8,34.8 L472,33 L480,37 L490,38 L500,45 L505,56 L500,100 L400,100 L400,44Z" fill="#c3dc14" stroke="#161310" stroke-width="0.85"/>
<circle cx="444.8" cy="46.4" r="1.8" fill="#e23b26" stroke="#161310" stroke-width="0.85"/>
<path d="M454.5,50C455.67,48.33 458.08,47.5 460,47C461.92,46.5 464.33,46.17 466,47C467.67,47.83 469.67,49.83 470,52C470.33,54.17 469.33,57.92 468,60C466.67,62.08 464,64 462,64.5C460,65 457.5,64.25 456,63C454.5,61.75 453.25,59.17 453,57C452.75,54.83 453.33,51.67 454.5,50Z" fill="#5fb922" stroke="#161310" stroke-width="0.85"/>
<path d="M457.7,50.3C458.98,48.68 460.32,48.85 462.9,48.3C465.48,47.75 471.15,46.67 473.2,47C475.25,47.33 475.2,49.12 475.2,50.3C475.2,51.48 474.38,53.25 473.2,54.1C472.02,54.95 469.82,54.75 468.1,55.4C466.38,56.05 464.63,56.92 462.9,58C461.17,59.08 458.98,61.9 457.7,61.9C456.42,61.9 455.2,59.93 455.2,58C455.2,56.07 456.42,51.92 457.7,50.3Z" fill="#5fb922" stroke="#161310" stroke-width="0.85"/>
<path d="M429.4,63.5C430.07,62.67 433.28,62.33 435,62.5C436.72,62.67 439.2,63.63 439.7,64.5C440.2,65.37 439.45,67.2 438,67.7C436.55,68.2 432.43,68.2 431,67.5C429.57,66.8 428.73,64.33 429.4,63.5Z" fill="#f6a232" stroke="#161310" stroke-width="0.85"/>
<path d="M452.6,66C452.77,65.37 454.35,64.42 455,64.5C455.65,64.58 456.67,65.87 456.5,66.5C456.33,67.13 454.65,68.38 454,68.3C453.35,68.22 452.43,66.63 452.6,66Z" fill="#f6a232" stroke="#161310" stroke-width="0.85"/>
<circle cx="419" cy="59.3" r="1.3" fill="#5fb922" stroke="#161310" stroke-width="0.85"/>
<path d="M442.9,67C443.15,66.53 445.25,66.23 446,66.4C446.75,66.57 447.65,67.53 447.4,68C447.15,68.47 445.25,69.37 444.5,69.2C443.75,69.03 442.65,67.47 442.9,67Z" fill="#5fb922" stroke="#161310" stroke-width="0.85"/>
<path d="M472,37C472,35.67 474.5,33.83 476,33C477.5,32.17 479.33,32 481,32C482.67,32 485,32 486,33C487,34 487.67,36.5 487,38C486.33,39.5 483.83,41.5 482,42C480.17,42.5 477.67,41.83 476,41C474.33,40.17 472,38.33 472,37Z" fill="#c3dc14" stroke="#161310" stroke-width="0.85"/>
<path d="M482.3,38.6C482.73,36.98 485.9,33.38 487.4,32.2C488.9,31.02 489.78,31.18 491.3,31.5C492.82,31.82 494.78,33.55 496.5,34.1C498.22,34.65 499.68,34.48 501.6,34.8C503.52,35.12 507.35,35.13 508,36C508.65,36.87 506.45,39.23 505.5,40C504.55,40.77 503.38,41.03 502.3,40.6C501.22,40.17 500.4,38.05 499,37.4C497.6,36.75 495.62,36.27 493.9,36.7C492.18,37.13 490.22,39.13 488.7,40C487.18,40.87 485.87,42.13 484.8,41.9C483.73,41.67 481.87,40.22 482.3,38.6Z" fill="#e23b26" stroke="#161310" stroke-width="0.85"/>
<path d="M481.5,45C481.83,44.22 483.23,43.63 484,43.8C484.77,43.97 485.93,45.13 486.1,46C486.27,46.87 485.68,48.58 485,49C484.32,49.42 482.58,49.17 482,48.5C481.42,47.83 481.17,45.78 481.5,45Z" fill="#f6a232" stroke="#161310" stroke-width="0.85"/>
<path d="M491.3,50C491.97,49 494.22,48.25 496,48C497.78,47.75 500.83,47.83 502,48.5C503.17,49.17 503.67,50.92 503,52C502.33,53.08 499.83,54.67 498,55C496.17,55.33 493.12,54.83 492,54C490.88,53.17 490.63,51 491.3,50Z" fill="#f6a232" stroke="#161310" stroke-width="0.85"/>
<path d="M503,45 L510,40 L508,60 L500,58Z" fill="#f6a232" stroke="#161310" stroke-width="0.85"/>
<path d="M468.1,60.6C470.15,59.52 472.8,58.65 475.8,58C478.8,57.35 483.3,56.48 486.1,56.7C488.9,56.92 491.28,58.08 492.6,59.3C493.92,60.52 493.78,62.72 494,64C494.22,65.28 494.13,65.63 493.9,67C493.67,68.37 493.25,70.03 492.6,72.2C491.95,74.37 490.77,77.03 490,80C489.23,82.97 491.33,87 488,90C484.67,93 475.42,96.83 470,98C464.58,99.17 459.23,97.57 455.5,97C451.77,96.43 449.9,95.78 447.6,94.6C445.3,93.42 442.75,91.22 441.7,89.9C440.65,88.58 441.1,88.55 441.3,86.7C441.5,84.85 441.58,80.92 442.9,78.8C444.22,76.68 447.1,75.33 449.2,74C451.3,72.67 453.12,72.38 455.5,70.8C457.88,69.22 461.4,66.2 463.5,64.5C465.6,62.8 466.05,61.68 468.1,60.6Z" fill="#5fb922" stroke="#161310" stroke-width="0.85"/>
<path d="M481.5,65C481.83,64.08 482.92,63.25 484,63C485.08,62.75 487.17,62.92 488,63.5C488.83,64.08 489.33,65.58 489,66.5C488.67,67.42 487.17,68.67 486,69C484.83,69.33 482.75,69.17 482,68.5C481.25,67.83 481.17,65.92 481.5,65Z" fill="#31238a" stroke="#161310" stroke-width="0.85"/>
<path d="M458.7,78.8C459.43,77.33 460.32,74.27 461.9,73.2C463.48,72.13 466.1,72.27 468.2,72.4C470.3,72.53 472.12,73.87 474.5,74C476.88,74.13 480.38,72.93 482.5,73.2C484.62,73.47 486.68,74.4 487.2,75.6C487.72,76.8 486.38,79 485.6,80.4C484.82,81.8 481.77,83.4 482.5,84C483.23,84.6 488.42,82.83 490,84C491.58,85.17 495.1,89.77 492,91C488.9,92.23 476.15,91.58 471.4,91.4C466.65,91.22 465.62,90.68 463.5,89.9C461.38,89.12 459.7,88.02 458.7,86.7C457.7,85.38 457.5,83.32 457.5,82C457.5,80.68 457.97,80.27 458.7,78.8Z" fill="#31238a" stroke="#161310" stroke-width="0.85"/>
<path d="M467.4,83.5C467.65,82.57 469.32,81.35 470.5,81.1C471.68,80.85 474.08,81.27 474.5,82C474.92,82.73 473.92,84.72 473,85.5C472.08,86.28 469.93,87.03 469,86.7C468.07,86.37 467.15,84.43 467.4,83.5Z" fill="#5fb922" stroke="#161310" stroke-width="0.85"/>
<circle cx="453.2" cy="80.4" r="1.5" fill="#31238a" stroke="#161310" stroke-width="0.85"/>
<path d="M442.1,71.6C443.22,70.6 444.38,71.93 443.7,74C443.02,76.07 439.33,81.5 438,84C436.67,86.5 436.62,88.17 435.7,89C434.78,89.83 432.28,90.5 432.5,89C432.72,87.5 435.4,82.9 437,80C438.6,77.1 440.98,72.6 442.1,71.6Z" fill="#f6a232" stroke="#161310" stroke-width="0.85"/>
<path d="M410,88.3 L431,88.8 L438.1,92 L436,95.5 L410,95.5Z" fill="#f6a232" stroke="#161310" stroke-width="0.85"/>

</g>
<path d="M449.3,20.3 L450.2,25.2 L436.2,29.5 L439.1,38.2 L424.6,44 L427.5,54.7 L417.4,55.1 L417.8,65.6 L444,69 L430.9,88.9 L413.5,88.4 L414,95.7 L469.6,98.8 L470.9,89.5 L489.4,89.5 L489.4,81.6 L485.4,81.6 L485.4,85.6 L478.4,85.6 L478.4,78 L491,78 L492,71 L510.4,40.6 L507,36.8 L505.6,35.3 L494.9,32.9 L488.1,30 L482.3,29 L472.7,28 L463,25.6Z" fill="none" stroke="#161310" stroke-width="0.85"/>
<circle cx="483.3" cy="35.8" r="2.9" fill="#fff" stroke="#161310" stroke-width="0.85"/>
<line x1="37" y1="133.8" x2="525" y2="133.8" stroke="#c6c6c6" stroke-width="0.55"/>
<line x1="37" y1="153.6" x2="525" y2="153.6" stroke="#c6c6c6" stroke-width="0.55"/>
<line x1="37" y1="173.4" x2="525" y2="173.4" stroke="#c6c6c6" stroke-width="0.55"/>
<line x1="37" y1="193.3" x2="525" y2="193.3" stroke="#c6c6c6" stroke-width="0.55"/>
<line x1="37" y1="213.2" x2="525" y2="213.2" stroke="#c6c6c6" stroke-width="0.55"/>
<line x1="37" y1="233" x2="525" y2="233" stroke="#c6c6c6" stroke-width="0.55"/>
<rect x="40" y="225.7" width="2" height="7.3" fill="#2e38a0"/>
<rect x="47.98" y="218.5" width="2" height="14.5" fill="#2e38a0"/>
<rect x="55.95" y="213.2" width="2" height="19.8" fill="#2e38a0"/>
<rect x="63.93" y="231.2" width="2" height="1.8" fill="#2e38a0"/>
<rect x="71.9" y="210.3" width="2" height="22.7" fill="#2e38a0"/>
<rect x="79.88" y="210.3" width="2" height="22.7" fill="#2e38a0"/>
<rect x="87.86" y="197" width="2" height="36" fill="#2e38a0"/>
<rect x="95.83" y="218.5" width="2" height="14.5" fill="#2e38a0"/>
<rect x="103.81" y="216.1" width="2" height="16.9" fill="#2e38a0"/>
<rect x="111.78" y="205.1" width="2" height="27.9" fill="#2e38a0"/>
<rect x="119.76" y="205.1" width="2" height="27.9" fill="#2e38a0"/>
<rect x="127.74" y="220.2" width="2" height="12.8" fill="#2e38a0"/>
<rect x="135.71" y="216.4" width="2" height="16.6" fill="#2e38a0"/>
<rect x="143.69" y="219.6" width="2" height="13.4" fill="#2e38a0"/>
<rect x="151.66" y="219.6" width="2" height="13.4" fill="#2e38a0"/>
<rect x="159.64" y="228" width="2" height="5" fill="#2e38a0"/>
<rect x="167.62" y="188" width="2" height="45" fill="#2e38a0"/>
<rect x="175.59" y="223.4" width="2" height="9.6" fill="#2e38a0"/>
<rect x="183.57" y="226" width="2" height="7" fill="#2e38a0"/>
<rect x="191.54" y="126.2" width="2" height="106.8" fill="#2e38a0"/>
<rect x="199.52" y="211.5" width="2" height="21.5" fill="#2e38a0"/>
<rect x="207.5" y="212.7" width="2" height="20.3" fill="#2e38a0"/>
<rect x="215.47" y="184.8" width="2" height="48.2" fill="#2e38a0"/>
<rect x="223.45" y="208" width="2" height="25" fill="#2e38a0"/>
<rect x="231.42" y="218.5" width="2" height="14.5" fill="#2e38a0"/>
<rect x="239.4" y="221.9" width="2" height="11.1" fill="#2e38a0"/>
<rect x="247.38" y="221.6" width="2" height="11.4" fill="#2e38a0"/>
<rect x="255.35" y="225" width="2" height="8" fill="#2e38a0"/>
<rect x="263.33" y="215.7" width="2" height="17.3" fill="#2e38a0"/>
<rect x="271.3" y="207.6" width="2" height="25.4" fill="#2e38a0"/>
<rect x="279.28" y="124.3" width="2" height="108.7" fill="#2e38a0"/>
<rect x="287.26" y="211" width="2" height="22" fill="#2e38a0"/>
<rect x="295.23" y="225.9" width="2" height="7.1" fill="#2e38a0"/>
<rect x="303.21" y="213.5" width="2" height="19.5" fill="#2e38a0"/>
<rect x="311.18" y="231.2" width="2" height="1.8" fill="#2e38a0"/>
<rect x="319.16" y="206.6" width="2" height="26.4" fill="#2e38a0"/>
<rect x="327.14" y="218.8" width="2" height="14.2" fill="#2e38a0"/>
<rect x="335.11" y="224.1" width="2" height="8.9" fill="#2e38a0"/>
<rect x="343.09" y="225.3" width="2" height="7.7" fill="#2e38a0"/>
<rect x="351.06" y="221" width="2" height="12" fill="#2e38a0"/>
<rect x="359.04" y="214.1" width="2" height="18.9" fill="#2e38a0"/>
<rect x="367.02" y="188.5" width="2" height="44.5" fill="#2e38a0"/>
<rect x="374.99" y="183.6" width="2" height="49.4" fill="#2e38a0"/>
<rect x="382.97" y="194.8" width="2" height="38.2" fill="#2e38a0"/>
<rect x="390.94" y="202.3" width="2" height="30.7" fill="#2e38a0"/>
<rect x="398.92" y="206.9" width="2" height="26.1" fill="#2e38a0"/>
<rect x="406.9" y="227.8" width="2" height="5.2" fill="#2e38a0"/>
<rect x="414.87" y="188.9" width="2" height="44.1" fill="#2e38a0"/>
<rect x="422.85" y="198.2" width="2" height="34.8" fill="#2e38a0"/>
<rect x="430.82" y="227.2" width="2" height="5.8" fill="#2e38a0"/>
<rect x="438.8" y="215.3" width="2" height="17.7" fill="#2e38a0"/>
<rect x="446.78" y="219.4" width="2" height="13.6" fill="#2e38a0"/>
<rect x="454.75" y="211" width="2" height="22" fill="#2e38a0"/>
<rect x="462.73" y="221.6" width="2" height="11.4" fill="#2e38a0"/>
<rect x="470.7" y="210.7" width="2" height="22.3" fill="#2e38a0"/>
<rect x="478.68" y="213.5" width="2" height="19.5" fill="#2e38a0"/>
<rect x="486.66" y="213.5" width="2" height="19.5" fill="#2e38a0"/>
<rect x="494.63" y="214.7" width="2" height="18.3" fill="#2e38a0"/>
<rect x="502.61" y="199.1" width="2" height="33.9" fill="#2e38a0"/>
<rect x="510.58" y="215.7" width="2" height="17.3" fill="#2e38a0"/>
<polyline points="41,214.7 48.98,212.1 56.95,195.5 64.93,173.8 72.9,163.6 80.88,156.3 88.86,140.1 96.83,138.9 104.81,153.4 112.78,182.2 120.76,184.2 128.74,212.1 136.71,230.1 144.69,215.6 152.66,198.4 160.64,181.6 168.62,172.9 176.59,150.5 184.57,128.8 192.54,142.4 200.52,162.7 208.5,181.6 216.47,192.6 224.45,228 232.42,207.9 240.4,212.5 248.38,197.6 256.35,172 264.33,158.6 272.3,147.1 280.28,144.9 288.26,143.4 296.23,153 304.21,174.2 312.18,192.9 320.16,195.4 328.14,211.9 336.11,193.8 344.09,186 352.06,175.1 360.04,163.3 368.02,151.8 375.99,134.9 383.97,146.2 391.94,154 399.92,164.9 407.9,186 415.87,201.6 423.85,201 431.82,206 439.8,191.3 447.78,179.8 455.75,166.4 463.73,154 471.7,143.7 479.68,137.7 487.66,158.6 495.63,178.9 503.61,182.9 511.58,185.7" fill="none" stroke="#c8201a" stroke-width="2" stroke-linejoin="round"/>
<text x="35" y="136.75" class="ax" text-anchor="end" textLength="12" lengthAdjust="spacingAndGlyphs">250</text>
<text x="35" y="156.55" class="ax" text-anchor="end" textLength="12" lengthAdjust="spacingAndGlyphs">200</text>
<text x="35" y="176.35" class="ax" text-anchor="end" textLength="12" lengthAdjust="spacingAndGlyphs">150</text>
<text x="35" y="196.25" class="ax" text-anchor="end" textLength="12" lengthAdjust="spacingAndGlyphs">100</text>
<text x="35" y="216.15" class="ax" text-anchor="end" textLength="8" lengthAdjust="spacingAndGlyphs">50</text>
<text x="35" y="235.95" class="ax" text-anchor="end" textLength="3.9" lengthAdjust="spacingAndGlyphs">0</text>
<text x="528.5" y="136.75" class="ax" textLength="9.2" lengthAdjust="spacingAndGlyphs">20</text>
<text x="528.5" y="156.55" class="ax" textLength="8.6" lengthAdjust="spacingAndGlyphs">15</text>
<text x="528.5" y="176.35" class="ax" textLength="9.2" lengthAdjust="spacingAndGlyphs">10</text>
<text x="529.2" y="196.25" class="ax" textLength="3.6" lengthAdjust="spacingAndGlyphs">5</text>
<text x="529.2" y="216.15" class="ax" textLength="3.6" lengthAdjust="spacingAndGlyphs">0</text>
<text x="528.5" y="235.95" class="ax" textLength="7" lengthAdjust="spacingAndGlyphs">-5</text>
<text x="41" y="238.9" class="mo" text-anchor="middle">1</text>
<text x="48.98" y="238.9" class="mo" text-anchor="middle">2</text>
<text x="56.95" y="238.9" class="mo" text-anchor="middle">3</text>
<text x="64.93" y="238.9" class="mo" text-anchor="middle">4</text>
<text x="72.9" y="238.9" class="mo" text-anchor="middle">5</text>
<text x="80.88" y="238.9" class="mo" text-anchor="middle">6</text>
<text x="88.86" y="238.9" class="mo" text-anchor="middle">7</text>
<text x="96.83" y="238.9" class="mo" text-anchor="middle">8</text>
<text x="104.81" y="238.9" class="mo" text-anchor="middle">9</text>
<text x="112.78" y="238.9" class="mo" text-anchor="middle">10</text>
<text x="120.76" y="238.9" class="mo" text-anchor="middle">11</text>
<text x="128.74" y="238.9" class="mo" text-anchor="middle">12</text>
<text x="136.71" y="238.9" class="mo" text-anchor="middle">1</text>
<text x="144.69" y="238.9" class="mo" text-anchor="middle">2</text>
<text x="152.66" y="238.9" class="mo" text-anchor="middle">3</text>
<text x="160.64" y="238.9" class="mo" text-anchor="middle">4</text>
<text x="168.62" y="238.9" class="mo" text-anchor="middle">5</text>
<text x="176.59" y="238.9" class="mo" text-anchor="middle">6</text>
<text x="184.57" y="238.9" class="mo" text-anchor="middle">7</text>
<text x="192.54" y="238.9" class="mo" text-anchor="middle">8</text>
<text x="200.52" y="238.9" class="mo" text-anchor="middle">9</text>
<text x="208.5" y="238.9" class="mo" text-anchor="middle">10</text>
<text x="216.47" y="238.9" class="mo" text-anchor="middle">11</text>
<text x="224.45" y="238.9" class="mo" text-anchor="middle">12</text>
<text x="232.42" y="238.9" class="mo" text-anchor="middle">1</text>
<text x="240.4" y="238.9" class="mo" text-anchor="middle">2</text>
<text x="248.38" y="238.9" class="mo" text-anchor="middle">3</text>
<text x="256.35" y="238.9" class="mo" text-anchor="middle">4</text>
<text x="264.33" y="238.9" class="mo" text-anchor="middle">5</text>
<text x="272.3" y="238.9" class="mo" text-anchor="middle">6</text>
<text x="280.28" y="238.9" class="mo" text-anchor="middle">7</text>
<text x="288.26" y="238.9" class="mo" text-anchor="middle">8</text>
<text x="296.23" y="238.9" class="mo" text-anchor="middle">9</text>
<text x="304.21" y="238.9" class="mo" text-anchor="middle">10</text>
<text x="312.18" y="238.9" class="mo" text-anchor="middle">11</text>
<text x="320.16" y="238.9" class="mo" text-anchor="middle">12</text>
<text x="328.14" y="238.9" class="mo" text-anchor="middle">1</text>
<text x="336.11" y="238.9" class="mo" text-anchor="middle">2</text>
<text x="344.09" y="238.9" class="mo" text-anchor="middle">3</text>
<text x="352.06" y="238.9" class="mo" text-anchor="middle">4</text>
<text x="360.04" y="238.9" class="mo" text-anchor="middle">5</text>
<text x="368.02" y="238.9" class="mo" text-anchor="middle">6</text>
<text x="375.99" y="238.9" class="mo" text-anchor="middle">7</text>
<text x="383.97" y="238.9" class="mo" text-anchor="middle">8</text>
<text x="391.94" y="238.9" class="mo" text-anchor="middle">9</text>
<text x="399.92" y="238.9" class="mo" text-anchor="middle">10</text>
<text x="407.9" y="238.9" class="mo" text-anchor="middle">11</text>
<text x="415.87" y="238.9" class="mo" text-anchor="middle">12</text>
<text x="423.85" y="238.9" class="mo" text-anchor="middle">1</text>
<text x="431.82" y="238.9" class="mo" text-anchor="middle">2</text>
<text x="439.8" y="238.9" class="mo" text-anchor="middle">3</text>
<text x="447.78" y="238.9" class="mo" text-anchor="middle">4</text>
<text x="455.75" y="238.9" class="mo" text-anchor="middle">5</text>
<text x="463.73" y="238.9" class="mo" text-anchor="middle">6</text>
<text x="471.7" y="238.9" class="mo" text-anchor="middle">7</text>
<text x="479.68" y="238.9" class="mo" text-anchor="middle">8</text>
<text x="487.66" y="238.9" class="mo" text-anchor="middle">9</text>
<text x="495.63" y="238.9" class="mo" text-anchor="middle">10</text>
<text x="503.61" y="238.9" class="mo" text-anchor="middle">11</text>
<text x="511.58" y="238.9" class="mo" text-anchor="middle">12</text>
<path d="M39,240 Q39,243 41.5,243 L83.12,243 Q85.12,243 85.12,244.2 Q85.12,243 87.12,243 L128.74,243 Q131.24,243 131.24,240" fill="none" stroke="#555" stroke-width="0.7"/>
<text x="85.12" y="250.6" class="yr" text-anchor="middle" textLength="16.2" lengthAdjust="spacingAndGlyphs">2009</text>
<path d="M134.71,240 Q134.71,243 137.21,243 L178.83,243 Q180.83,243 180.83,244.2 Q180.83,243 182.83,243 L224.45,243 Q226.95,243 226.95,240" fill="none" stroke="#555" stroke-width="0.7"/>
<text x="180.83" y="250.6" class="yr" text-anchor="middle" textLength="16.2" lengthAdjust="spacingAndGlyphs">2010</text>
<path d="M230.42,240 Q230.42,243 232.92,243 L274.54,243 Q276.54,243 276.54,244.2 Q276.54,243 278.54,243 L320.16,243 Q322.66,243 322.66,240" fill="none" stroke="#555" stroke-width="0.7"/>
<text x="276.54" y="250.6" class="yr" text-anchor="middle" textLength="16.2" lengthAdjust="spacingAndGlyphs">2011</text>
<path d="M326.14,240 Q326.14,243 328.64,243 L370.25,243 Q372.25,243 372.25,244.2 Q372.25,243 374.25,243 L415.87,243 Q418.37,243 418.37,240" fill="none" stroke="#555" stroke-width="0.7"/>
<text x="372.25" y="250.6" class="yr" text-anchor="middle" textLength="16.2" lengthAdjust="spacingAndGlyphs">2014</text>
<path d="M421.85,240 Q421.85,243 424.35,243 L465.97,243 Q467.97,243 467.97,244.2 Q467.97,243 469.97,243 L511.58,243 Q514.08,243 514.08,240" fill="none" stroke="#555" stroke-width="0.7"/>
<text x="467.97" y="250.6" class="yr" text-anchor="middle" textLength="16.2" lengthAdjust="spacingAndGlyphs">2015</text>
<text transform="translate(16.8,179.9) rotate(-90)" class="at" text-anchor="middle" textLength="59.9" lengthAdjust="spacingAndGlyphs">Precipitation in mm</text>
<text transform="translate(552,181) rotate(-90)" class="at" text-anchor="middle" textLength="67.7" lengthAdjust="spacingAndGlyphs">Temperature in °C</text>
<rect x="510.6" y="52.7" width="7.1" height="7" fill="#e23b26"/>
<text x="519.6" y="58.2" class="lg">1</text>
<text x="530.9" y="58.2" class="lg" textLength="29" lengthAdjust="spacingAndGlyphs">„very low“</text>
<rect x="510.6" y="63.15" width="7.1" height="7" fill="#f6a232"/>
<text x="519.6" y="68.7" class="lg">2</text>
<text x="529" y="68.7" class="lg" textLength="17.2" lengthAdjust="spacingAndGlyphs">„low“</text>
<rect x="510.6" y="73.6" width="7.1" height="7" fill="#c3dc14"/>
<text x="519.6" y="79.2" class="lg">3</text>
<text x="529" y="79.2" class="lg" textLength="28.4" lengthAdjust="spacingAndGlyphs">„average“</text>
<rect x="510.6" y="84.05" width="7.1" height="7" fill="#5fb922"/>
<text x="519.6" y="89.7" class="lg">4</text>
<text x="529" y="89.7" class="lg" textLength="17.8" lengthAdjust="spacingAndGlyphs">„high“</text>
<rect x="510.6" y="94.5" width="7.1" height="7" fill="#31238a"/>
<text x="519.6" y="100.2" class="lg">5</text>
<text x="528.2" y="100.2" class="lg" textLength="31.7" lengthAdjust="spacingAndGlyphs">„very high“</text>
<text x="0.1" y="13.9" class="pl" textLength="20.3" lengthAdjust="spacingAndGlyphs">(a)</text>
<text x="0" y="129.4" class="pl" textLength="20.3" lengthAdjust="spacingAndGlyphs">(b)</text>
<text x="-0.1" y="278.3" class="pl" textLength="20.3" lengthAdjust="spacingAndGlyphs">(c)</text>
<text x="315.3" y="277.9" class="pl" textLength="20.3" lengthAdjust="spacingAndGlyphs">(d)</text>
<text x="445" y="277.9" class="pl" textLength="20.3" lengthAdjust="spacingAndGlyphs">(e)</text>
<text x="66.9" y="10.9" class="ty" textLength="20" lengthAdjust="spacingAndGlyphs">2009</text>
<text x="161.5" y="10.9" class="ty" textLength="20" lengthAdjust="spacingAndGlyphs">2010</text>
<text x="266.8" y="10.9" class="ty" textLength="20" lengthAdjust="spacingAndGlyphs">2011</text>
<text x="361.5" y="10.9" class="ty" textLength="20" lengthAdjust="spacingAndGlyphs">2014</text>
<text x="456.5" y="10.9" class="ty" textLength="20" lengthAdjust="spacingAndGlyphs">2015</text>
<g clip-path="url(#c6)">
<path d="M46.2,278.38 L47.16,283.59 L32.28,288.16 L35.36,297.41 L19.95,303.57 L23.03,314.95 L12.29,315.37 L12.72,326.53 L40.57,330.15 L26.64,351.3 L8.15,350.77 L8.68,357.68 L67.78,358.32 L69.16,351.94 L88.83,351.94 L88.83,343.54 L84.58,343.54 L84.58,347.79 L77.14,347.79 L77.14,339.71 L90.53,339.71 L91.59,332.27 L111.15,299.96 L107.54,295.92 L106.05,294.32 L94.67,291.77 L87.45,288.69 L81.28,287.63 L71.08,286.56 L60.76,284.01Z" fill="#68bf22"/>
<g filter="url(#bl)">
<path d="M52,281C53.33,279.5 57,278.83 60,279C63,279.17 66.67,281.17 70,282C73.33,282.83 78.33,282.67 80,284C81.67,285.33 81.67,288.5 80,290C78.33,291.5 73.67,292.83 70,293C66.33,293.17 61,291.83 58,291C55,290.17 53,289.67 52,288C51,286.33 50.67,282.5 52,281Z" fill="#b6d82c"/>
<path d="M34.7,293C37.1,292.25 40.9,292.2 42.4,293.5C43.9,294.8 43.92,298.93 43.7,300.8C43.48,302.67 42.6,303.42 41.1,304.7C39.6,305.98 36.85,307 34.7,308.5C32.55,310 29.92,311.53 28.2,313.7C26.48,315.87 25.68,319.28 24.4,321.5C23.12,323.72 23.73,326.08 20.5,327C17.27,327.92 7.58,329.5 5,327C2.42,324.5 2.83,315.67 5,312C7.17,308.33 14.17,307.33 18,305C21.83,302.67 25.22,300 28,298C30.78,296 32.3,293.75 34.7,293Z" fill="#7ed2e2"/>
<circle cx="38.5" cy="298.5" r="1.8" fill="#4048b4"/>
<path d="M44,294C45.08,292.5 47.83,291.33 50,291C52.17,290.67 55.08,290.83 57,292C58.92,293.17 60.83,295.67 61.5,298C62.17,300.33 61.75,303.58 61,306C60.25,308.42 58.83,311.33 57,312.5C55.17,313.67 52,313.75 50,313C48,312.25 46.08,310.17 45,308C43.92,305.83 43.67,302.33 43.5,300C43.33,297.67 42.92,295.5 44,294Z" fill="#f0d62a"/>
<path d="M49,299C49.92,297.67 52.5,296.83 54,297C55.5,297.17 57.33,298.17 58,300C58.67,301.83 58.5,306.17 58,308C57.5,309.83 56.33,310.67 55,311C53.67,311.33 51.08,311 50,310C48.92,309 48.67,306.83 48.5,305C48.33,303.17 48.08,300.33 49,299Z" fill="#f39226"/>
<path d="M83.5,287.9C85.98,286.83 90.87,287.92 92.6,289.2C94.33,290.48 94.33,293.67 93.9,295.6C93.47,297.53 90.87,298.85 90,300.8C89.13,302.75 88.05,304.5 88.7,307.3C89.35,310.1 93.68,315.23 93.9,317.6C94.12,319.97 91.93,320.43 90,321.5C88.07,322.57 85.1,322.72 82.3,324C79.5,325.28 75.57,328.77 73.2,329.2C70.83,329.63 69.82,328.75 68.1,326.6C66.38,324.45 64.2,319.1 62.9,316.3C61.6,313.5 60.08,311.3 60.3,309.8C60.52,308.3 62.05,308.15 64.2,307.3C66.35,306.45 70.83,305.78 73.2,304.7C75.57,303.62 77.65,302.32 78.4,300.8C79.15,299.28 76.85,297.75 77.7,295.6C78.55,293.45 81.02,288.97 83.5,287.9Z" fill="#7ed2e2"/>
<path d="M62,310C62.83,308.58 66,307.5 68,307.5C70,307.5 72.33,308.75 74,310C75.67,311.25 77,313 78,315C79,317 80.17,319.75 80,322C79.83,324.25 78.33,327.5 77,328.5C75.67,329.5 73.67,329.08 72,328C70.33,326.92 68.5,324 67,322C65.5,320 63.83,318 63,316C62.17,314 61.17,311.42 62,310Z" fill="#4048b4"/>
<path d="M85,289C85.5,287.75 88.75,288 90,288.5C91.25,289 92.33,290.67 92.5,292C92.67,293.33 91.92,295.83 91,296.5C90.08,297.17 88,297.25 87,296C86,294.75 84.5,290.25 85,289Z" fill="#4048b4"/>
<path d="M74,329C74.67,326.58 77.67,325.67 80,324.5C82.33,323.33 85.5,322.58 88,322C90.5,321.42 93.33,319.67 95,321C96.67,322.33 98.33,327 98,330C97.67,333 95.67,337 93,339C90.33,341 84.83,342 82,342C79.17,342 77.33,341.17 76,339C74.67,336.83 73.33,331.42 74,329Z" fill="#f0d62a"/>
<path d="M76,331C76.83,329.5 79.67,327.92 82,327C84.33,326.08 88,325.17 90,325.5C92,325.83 94,327.25 94,329C94,330.75 92,334.38 90,336C88,337.62 84.17,338.7 82,338.7C79.83,338.7 78,337.28 77,336C76,334.72 75.17,332.5 76,331Z" fill="#f39226"/>
<path d="M30,340C31,335.67 32.33,333.67 34,332C35.67,330.33 38.67,329 40,330C41.33,331 42.33,335 42,338C41.67,341 39,344.67 38,348C37,351.33 37.67,356.33 36,358C34.33,359.67 29,361 28,358C27,355 29,344.33 30,340Z" fill="#f0d62a"/>
<path d="M44.6,329.3C45.93,327.85 48.88,326.38 51,326.9C53.12,327.42 55.85,329.63 57.3,332.4C58.75,335.17 59.7,339.8 59.7,343.5C59.7,347.2 59.28,352.22 57.3,354.6C55.32,356.98 51.23,357.8 47.8,357.8C44.37,357.8 38.68,356.18 36.7,354.6C34.72,353.02 35.12,350.15 35.9,348.3C36.68,346.45 40.22,345.62 41.4,343.5C42.58,341.38 42.47,337.97 43,335.6C43.53,333.23 43.27,330.75 44.6,329.3Z" fill="#7ed2e2"/>
<path d="M46.5,341C47.53,339.25 50.75,338.25 52.5,338.5C54.25,338.75 56.08,340.42 57,342.5C57.92,344.58 58.33,348.58 58,351C57.67,353.42 56.58,356.08 55,357C53.42,357.92 49.95,357.83 48.5,356.5C47.05,355.17 46.63,351.58 46.3,349C45.97,346.42 45.47,342.75 46.5,341Z" fill="#4048b4"/>
<path d="M24,348 L31,348 L31,360 L24,360Z" fill="#f39226"/>
<path d="M3,348 L27,349 L27,361 L3,361Z" fill="#e5321f"/>
</g>

</g>
<circle cx="82.34" cy="294.86" r="3.08" fill="#fff"/>
<g clip-path="url(#c7)">
<path d="M194.2,276.18 L195.16,281.39 L180.28,285.96 L183.36,295.21 L167.95,301.37 L171.03,312.75 L160.29,313.17 L160.72,324.33 L188.57,327.95 L174.64,349.1 L156.15,348.57 L156.68,355.48 L215.78,356.12 L217.16,349.74 L236.83,349.74 L236.83,341.34 L232.58,341.34 L232.58,345.59 L225.14,345.59 L225.14,337.51 L238.53,337.51 L239.59,330.07 L259.15,297.76 L255.54,293.72 L254.05,292.12 L242.67,289.57 L235.45,286.49 L229.28,285.43 L219.08,284.36 L208.76,281.81Z" fill="#68bf22"/>
<g filter="url(#bl)">
<path d="M200,278.8C201.33,277.3 205,276.63 208,276.8C211,276.97 214.67,278.97 218,279.8C221.33,280.63 226.33,280.47 228,281.8C229.67,283.13 229.67,286.3 228,287.8C226.33,289.3 221.67,290.63 218,290.8C214.33,290.97 209,289.63 206,288.8C203,287.97 201,287.47 200,285.8C199,284.13 198.67,280.3 200,278.8Z" fill="#b6d82c"/>
<path d="M182.7,290.8C185.1,290.05 188.9,290 190.4,291.3C191.9,292.6 191.92,296.73 191.7,298.6C191.48,300.47 190.6,301.22 189.1,302.5C187.6,303.78 184.85,304.8 182.7,306.3C180.55,307.8 177.92,309.33 176.2,311.5C174.48,313.67 173.68,317.08 172.4,319.3C171.12,321.52 171.73,323.88 168.5,324.8C165.27,325.72 155.58,327.3 153,324.8C150.42,322.3 150.83,313.47 153,309.8C155.17,306.13 162.17,305.13 166,302.8C169.83,300.47 173.22,297.8 176,295.8C178.78,293.8 180.3,291.55 182.7,290.8Z" fill="#7ed2e2"/>
<circle cx="186.5" cy="296.3" r="1.8" fill="#4048b4"/>
<path d="M192,291.8C193.08,290.3 195.83,289.13 198,288.8C200.17,288.47 203.08,288.63 205,289.8C206.92,290.97 208.83,293.47 209.5,295.8C210.17,298.13 209.75,301.38 209,303.8C208.25,306.22 206.83,309.13 205,310.3C203.17,311.47 200,311.55 198,310.8C196,310.05 194.08,307.97 193,305.8C191.92,303.63 191.67,300.13 191.5,297.8C191.33,295.47 190.92,293.3 192,291.8Z" fill="#f0d62a"/>
<path d="M197,296.8C197.92,295.47 200.5,294.63 202,294.8C203.5,294.97 205.33,295.97 206,297.8C206.67,299.63 206.5,303.97 206,305.8C205.5,307.63 204.33,308.47 203,308.8C201.67,309.13 199.08,308.8 198,307.8C196.92,306.8 196.67,304.63 196.5,302.8C196.33,300.97 196.08,298.13 197,296.8Z" fill="#f39226"/>
<path d="M231.5,285.7C233.98,284.63 238.87,285.72 240.6,287C242.33,288.28 242.33,291.47 241.9,293.4C241.47,295.33 238.87,296.65 238,298.6C237.13,300.55 236.05,302.3 236.7,305.1C237.35,307.9 241.68,313.03 241.9,315.4C242.12,317.77 239.93,318.23 238,319.3C236.07,320.37 233.1,320.52 230.3,321.8C227.5,323.08 223.57,326.57 221.2,327C218.83,327.43 217.82,326.55 216.1,324.4C214.38,322.25 212.2,316.9 210.9,314.1C209.6,311.3 208.08,309.1 208.3,307.6C208.52,306.1 210.05,305.95 212.2,305.1C214.35,304.25 218.83,303.58 221.2,302.5C223.57,301.42 225.65,300.12 226.4,298.6C227.15,297.08 224.85,295.55 225.7,293.4C226.55,291.25 229.02,286.77 231.5,285.7Z" fill="#7ed2e2"/>
<path d="M210,307.8C210.83,306.38 214,305.3 216,305.3C218,305.3 220.33,306.55 222,307.8C223.67,309.05 225,310.8 226,312.8C227,314.8 228.17,317.55 228,319.8C227.83,322.05 226.33,325.3 225,326.3C223.67,327.3 221.67,326.88 220,325.8C218.33,324.72 216.5,321.8 215,319.8C213.5,317.8 211.83,315.8 211,313.8C210.17,311.8 209.17,309.22 210,307.8Z" fill="#4048b4"/>
<path d="M233,286.8C233.5,285.55 236.75,285.8 238,286.3C239.25,286.8 240.33,288.47 240.5,289.8C240.67,291.13 239.92,293.63 239,294.3C238.08,294.97 236,295.05 235,293.8C234,292.55 232.5,288.05 233,286.8Z" fill="#4048b4"/>
<path d="M222,326.8C222.67,324.38 225.67,323.47 228,322.3C230.33,321.13 233.5,320.38 236,319.8C238.5,319.22 241.33,317.47 243,318.8C244.67,320.13 246.33,324.8 246,327.8C245.67,330.8 243.67,334.8 241,336.8C238.33,338.8 232.83,339.8 230,339.8C227.17,339.8 225.33,338.97 224,336.8C222.67,334.63 221.33,329.22 222,326.8Z" fill="#f0d62a"/>
<path d="M224,328.8C224.83,327.3 227.67,325.72 230,324.8C232.33,323.88 236,322.97 238,323.3C240,323.63 242,325.05 242,326.8C242,328.55 240,332.18 238,333.8C236,335.42 232.17,336.5 230,336.5C227.83,336.5 226,335.08 225,333.8C224,332.52 223.17,330.3 224,328.8Z" fill="#f39226"/>
<path d="M178,337.8C179,333.47 180.33,331.47 182,329.8C183.67,328.13 186.67,326.8 188,327.8C189.33,328.8 190.33,332.8 190,335.8C189.67,338.8 187,342.47 186,345.8C185,349.13 185.67,354.13 184,355.8C182.33,357.47 177,358.8 176,355.8C175,352.8 177,342.13 178,337.8Z" fill="#f0d62a"/>
<path d="M192.6,327.1C193.93,325.65 196.88,324.18 199,324.7C201.12,325.22 203.85,327.43 205.3,330.2C206.75,332.97 207.7,337.6 207.7,341.3C207.7,345 207.28,350.02 205.3,352.4C203.32,354.78 199.23,355.6 195.8,355.6C192.37,355.6 186.68,353.98 184.7,352.4C182.72,350.82 183.12,347.95 183.9,346.1C184.68,344.25 188.22,343.42 189.4,341.3C190.58,339.18 190.47,335.77 191,333.4C191.53,331.03 191.27,328.55 192.6,327.1Z" fill="#7ed2e2"/>
<path d="M194.5,338.8C195.53,337.05 198.75,336.05 200.5,336.3C202.25,336.55 204.08,338.22 205,340.3C205.92,342.38 206.33,346.38 206,348.8C205.67,351.22 204.58,353.88 203,354.8C201.42,355.72 197.95,355.63 196.5,354.3C195.05,352.97 194.63,349.38 194.3,346.8C193.97,344.22 193.47,340.55 194.5,338.8Z" fill="#4048b4"/>
<path d="M172,345.8 L179,345.8 L179,357.8 L172,357.8Z" fill="#f39226"/>
<path d="M151,345.8 L175,346.8 L175,358.8 L151,358.8Z" fill="#e5321f"/>
</g>

</g>
<circle cx="230.34" cy="292.66" r="3.08" fill="#fff"/>
<g clip-path="url(#c8)">
<path d="M43.9,382.38 L44.86,387.59 L29.98,392.16 L33.06,401.41 L17.65,407.57 L20.73,418.95 L9.99,419.37 L10.42,430.53 L38.27,434.15 L24.34,455.3 L5.85,454.77 L6.38,461.68 L65.48,462.32 L66.86,455.94 L86.53,455.94 L86.53,447.54 L82.28,447.54 L82.28,451.79 L74.84,451.79 L74.84,443.71 L88.23,443.71 L89.29,436.27 L108.85,403.96 L105.24,399.92 L103.75,398.32 L92.37,395.77 L85.15,392.69 L78.98,391.63 L68.78,390.56 L58.46,388.01Z" fill="#68bf22"/>
<g filter="url(#bl)">
<path d="M40,386C40.5,382.67 42,380.5 44,380C46,379.5 50,381 52,383C54,385 55,388.83 56,392C57,395.17 57.83,398.67 58,402C58.17,405.33 58.33,409.67 57,412C55.67,414.33 52.17,416 50,416C47.83,416 45.5,414.67 44,412C42.5,409.33 41.67,404.33 41,400C40.33,395.67 39.5,389.33 40,386Z" fill="#f0d62a"/>
<path d="M49,386C49.67,384 53.17,383.67 56,384C58.83,384.33 63.5,386.5 66,388C68.5,389.5 71,391 71,393C71,395 68.17,398.7 66,400C63.83,401.3 60.33,401.47 58,400.8C55.67,400.13 53.5,398.47 52,396C50.5,393.53 48.33,388 49,386Z" fill="#f39226"/>
<path d="M53,388C53.33,386.5 56.33,386.5 58,387C59.67,387.5 62.5,389.5 63,391C63.5,392.5 62.17,395.17 61,396C59.83,396.83 57.33,397.33 56,396C54.67,394.67 52.67,389.5 53,388Z" fill="#f39226"/>
<path d="M62,388C63.33,386.83 69.5,386.33 72,387C74.5,387.67 77.33,390.5 77,392C76.67,393.5 72.17,395.67 70,396C67.83,396.33 65.33,395.33 64,394C62.67,392.67 60.67,389.17 62,388Z" fill="#b6d82c"/>
<path d="M32.3,412C33.3,410.63 35.07,409.97 37,409.8C38.93,409.63 42.73,409.63 43.9,411C45.07,412.37 44.65,416.05 44,418C43.35,419.95 41.67,422.03 40,422.7C38.33,423.37 35.5,422.78 34,422C32.5,421.22 31.28,419.67 31,418C30.72,416.33 31.3,413.37 32.3,412Z" fill="#7ed2e2"/>
<path d="M58,415C58.58,413.25 60.17,410.5 62,409C63.83,407.5 67.17,407.33 69,406C70.83,404.67 71.42,402.25 73,401C74.58,399.75 76.5,398.5 78.5,398.5C80.5,398.5 84.08,399.25 85,401C85.92,402.75 85.17,406.83 84,409C82.83,411.17 80.2,412.83 78,414C75.8,415.17 73.07,415 70.8,416C68.53,417 66.45,419.42 64.4,420C62.35,420.58 59.57,420.33 58.5,419.5C57.43,418.67 57.42,416.75 58,415Z" fill="#7ed2e2"/>
<path d="M59.8,415C60.23,413.92 61.48,412.18 63.1,411.1C64.72,410.02 67.78,409.78 69.5,408.5C71.22,407.22 71.9,404.68 73.4,403.4C74.9,402.12 76.88,400.92 78.5,400.8C80.12,400.68 82.45,401.42 83.1,402.7C83.75,403.98 83.37,406.88 82.4,408.5C81.43,410.12 79.23,411.53 77.3,412.4C75.37,413.27 72.95,412.83 70.8,413.7C68.65,414.57 66.12,416.95 64.4,417.6C62.68,418.25 61.27,418.03 60.5,417.6C59.73,417.17 59.37,416.08 59.8,415Z" fill="#4048b4"/>
<path d="M82.4,392C83.07,390.45 86.48,391.17 88,391.5C89.52,391.83 91.17,392.58 91.5,394C91.83,395.42 91.25,398.87 90,400C88.75,401.13 85.27,402.13 84,400.8C82.73,399.47 81.73,393.55 82.4,392Z" fill="#7ed2e2"/>
<path d="M90,399C90.83,397.5 94.47,397.5 96,398C97.53,398.5 99.03,400.25 99.2,402C99.37,403.75 98.37,407.67 97,408.5C95.63,409.33 92.17,408.58 91,407C89.83,405.42 89.17,400.5 90,399Z" fill="#f0d62a"/>
<path d="M91.5,413C92.42,411.92 95.72,411.67 97,412C98.28,412.33 99.37,413.83 99.2,415C99.03,416.17 97.28,418.42 96,419C94.72,419.58 92.25,419.5 91.5,418.5C90.75,417.5 90.58,414.08 91.5,413Z" fill="#7ed2e2"/>
<path d="M33,426C33.83,424 37.17,421.33 40,420C42.83,418.67 46.33,418.42 50,418C53.67,417.58 57.83,417.83 62,417.5C66.17,417.17 71.67,415.58 75,416C78.33,416.42 80.83,417.67 82,420C83.17,422.33 83.17,426.83 82,430C80.83,433.17 78.67,437 75,439C71.33,441 65,443.17 60,442C55,440.83 49.17,433.67 45,432C40.83,430.33 37,433 35,432C33,431 32.17,428 33,426Z" fill="#f0d62a"/>
<path d="M49,427C49.83,425.08 52.02,422.67 55,421.5C57.98,420.33 63.32,420.67 66.9,420C70.48,419.33 74.48,416.57 76.5,417.5C78.52,418.43 79.25,422.6 79,425.6C78.75,428.6 77.02,433.02 75,435.5C72.98,437.98 70.07,440.08 66.9,440.5C63.73,440.92 58.82,439.25 56,438C53.18,436.75 51.17,434.83 50,433C48.83,431.17 48.17,428.92 49,427Z" fill="#f39226"/>
<path d="M52,428.5C52.5,427 54.83,425.33 56.5,424.5C58.17,423.67 60.25,423.42 62,423.5C63.75,423.58 66.08,423.75 67,425C67.92,426.25 67.75,428.92 67.5,431C67.25,433.08 66.92,436.42 65.5,437.5C64.08,438.58 61,438.17 59,437.5C57,436.83 54.67,435 53.5,433.5C52.33,432 51.5,430 52,428.5Z" fill="#e5321f"/>
<path d="M36,444C37.33,441.67 38.33,439.83 40,438C41.67,436.17 43.83,433.33 46,433C48.17,432.67 51.17,434.17 53,436C54.83,437.83 54.83,442.17 57,444C59.17,445.83 63.5,445.67 66,447C68.5,448.33 71.33,449.33 72,452C72.67,454.67 73.67,461 70,463C66.33,465 56,464 50,464C44,464 37,465 34,463C31,461 31.67,455.17 32,452C32.33,448.83 34.67,446.33 36,444Z" fill="#7ed2e2"/>
<path d="M41.4,436.1C42.27,434.03 45.6,430.8 47.5,430.8C49.4,430.8 51.62,433.45 52.8,436.1C53.98,438.75 54.6,443.47 54.6,446.7C54.6,449.93 53.98,453.88 52.8,455.5C51.62,457.12 48.82,457.57 47.5,456.4C46.18,455.23 45.77,450.7 44.9,448.5C44.03,446.3 42.88,445.27 42.3,443.2C41.72,441.13 40.53,438.17 41.4,436.1Z" fill="#4048b4"/>
</g>

</g>
<circle cx="80.04" cy="398.86" r="3.08" fill="#fff"/>
<g clip-path="url(#c9)">
<path d="M192.6,382.88 L193.56,388.09 L178.68,392.66 L181.76,401.91 L166.35,408.07 L169.43,419.45 L158.69,419.87 L159.12,431.03 L186.97,434.65 L173.04,455.8 L154.55,455.27 L155.08,462.18 L214.18,462.82 L215.56,456.44 L235.23,456.44 L235.23,448.04 L230.98,448.04 L230.98,452.29 L223.54,452.29 L223.54,444.21 L236.93,444.21 L237.99,436.77 L257.55,404.46 L253.94,400.42 L252.45,398.82 L241.07,396.27 L233.85,393.19 L227.68,392.13 L217.48,391.06 L207.16,388.51Z" fill="#68bf22"/>
<g filter="url(#bl)">
<path d="M176,390C177.5,388.17 185,388.83 189,389C193,389.17 197.5,389.67 200,391C202.5,392.33 203.67,394.67 204,397C204.33,399.33 203.5,403.5 202,405C200.5,406.5 197.33,406.83 195,406C192.67,405.17 190.5,401 188,400C185.5,399 182,401.67 180,400C178,398.33 174.5,391.83 176,390Z" fill="#7ed2e2"/>
<path d="M178,390.5 L188.7,390 L189,397 L183,398.5 L178,397Z" fill="#4048b4"/>
<path d="M190,395C191,393.92 194.08,392.33 196,392.5C197.92,392.67 200.83,394.3 201.5,396C202.17,397.7 201.25,401.7 200,402.7C198.75,403.7 195.67,402.62 194,402C192.33,401.38 190.67,400.17 190,399C189.33,397.83 189,396.08 190,395Z" fill="#4048b4"/>
<path d="M209.2,392C210.57,390.72 216.73,390.55 218.2,391.8C219.67,393.05 219.37,398.22 218,399.5C216.63,400.78 211.47,400.75 210,399.5C208.53,398.25 207.83,393.28 209.2,392Z" fill="#7ed2e2"/>
<path d="M216,396C217.17,394 219.67,393.67 222,393C224.33,392.33 227,392 230,392C233,392 236.33,392.33 240,393C243.67,393.67 250,392.83 252,396C254,399.17 254,409 252,412C250,415 243.67,413.67 240,414C236.33,414.33 233.33,414 230,414C226.67,414 222.5,415.5 220,414C217.5,412.5 215.67,408 215,405C214.33,402 214.83,398 216,396Z" fill="#7ed2e2"/>
<path d="M219.5,401C220.33,399.33 222.07,399 224,399C225.93,399 229.93,398.92 231.1,401C232.27,403.08 232.18,409.6 231,411.5C229.82,413.4 226,412.82 224,412.4C222,411.98 219.75,410.9 219,409C218.25,407.1 218.67,402.67 219.5,401Z" fill="#4048b4"/>
<path d="M230,394C230.83,392.67 234.33,392.5 236,393C237.67,393.5 240,395.5 240,397C240,398.5 237.5,401.33 236,402C234.5,402.67 232,402.33 231,401C230,399.67 229.17,395.33 230,394Z" fill="#4048b4"/>
<path d="M166,404C168.83,401.5 171.83,400.75 175,400C178.17,399.25 182.07,398.67 185,399.5C187.93,400.33 191.1,402.42 192.6,405C194.1,407.58 193.43,411.67 194,415C194.57,418.33 195.42,422.07 196,425C196.58,427.93 198.5,431.1 197.5,432.6C196.5,434.1 192.92,434.1 190,434C187.08,433.9 183.33,432.5 180,432C176.67,431.5 173.33,431.67 170,431C166.67,430.33 162,430.67 160,428C158,425.33 157,419 158,415C159,411 163.17,406.5 166,404Z" fill="#f0d62a"/>
<path d="M172,415C173.67,413 177,413.33 180,414C183,414.67 187.33,416.67 190,419C192.67,421.33 196,425.83 196,428C196,430.17 193,431.67 190,432C187,432.33 181.33,431 178,430C174.67,429 171,428.5 170,426C169,423.5 170.33,417 172,415Z" fill="#f39226"/>
<path d="M220,415C221.67,410.5 229.67,411.83 235,411C240.33,410.17 249.17,405.17 252,410C254.83,414.83 256.5,435.33 252,440C247.5,444.67 230.33,442.17 225,438C219.67,433.83 218.33,419.5 220,415Z" fill="#b6d82c"/>
<path d="M227,412C229.17,409.17 235.83,411 240,411C244.17,411 250.33,408.83 252,412C253.67,415.17 252.83,426.17 250,430C247.17,433.83 238.83,435.33 235,435C231.17,434.67 228.33,431.83 227,428C225.67,424.17 224.83,414.83 227,412Z" fill="#f0d62a"/>
<path d="M199,421C200.83,418.83 206.17,419 210,419C213.83,419 219.5,418.83 222,421C224.5,423.17 225.67,428.6 225,432C224.33,435.4 221.33,439.9 218,441.4C214.67,442.9 208.17,442.57 205,441C201.83,439.43 200,435.33 199,432C198,428.67 197.17,423.17 199,421Z" fill="#f0d62a"/>
<path d="M202.8,425.6C203.97,424.35 207.95,424.1 210,424.5C212.05,424.9 214.43,426.25 215.1,428C215.77,429.75 215.35,433.65 214,435C212.65,436.35 208.83,436.6 207,436.1C205.17,435.6 203.7,433.75 203,432C202.3,430.25 201.63,426.85 202.8,425.6Z" fill="#f39226"/>
<path d="M178,437C179.5,434 182.22,434 184,434C185.78,434 188.53,434.67 188.7,437C188.87,439.33 186.45,444.92 185,448C183.55,451.08 181.67,454.83 180,455.5C178.33,456.17 175.33,455.08 175,452C174.67,448.92 176.5,440 178,437Z" fill="#f39226"/>
<path d="M186,445C187.83,443.5 192.17,442.67 195,443C197.83,443.33 202.17,444.67 203,447C203.83,449.33 202.17,455.17 200,457C197.83,458.83 192.67,458.83 190,458C187.33,457.17 184.67,454.17 184,452C183.33,449.83 184.17,446.5 186,445Z" fill="#b6d82c"/>
<path d="M205.5,446.7 L216,446.7 L216,457.3 L205.5,457.3Z" fill="#7ed2e2"/>
<path d="M157,419 L169.4,419.4 L169.4,430 L157,430Z" fill="#e5321f"/>
</g>

</g>
<circle cx="228.74" cy="399.36" r="3.08" fill="#fff"/>
<rect x="99" y="331.9" width="17.2" height="28.1" fill="url(#cbar)"/>
<text x="99.6" y="328.9" class="cb" textLength="51.5" lengthAdjust="spacingAndGlyphs">Potassium in %</text>
<text x="117.6" y="338.6" class="cb" textLength="11.7" lengthAdjust="spacingAndGlyphs">182</text>
<text x="117.3" y="360.3" class="cb" textLength="8.6" lengthAdjust="spacingAndGlyphs">75</text>
<rect x="246.3" y="331.7" width="17.2" height="28.1" fill="url(#cbar)"/>
<text x="246.9" y="328.3" class="cb" textLength="56" lengthAdjust="spacingAndGlyphs">Magnesium in %</text>
<text x="264.9" y="338.1" class="cb" textLength="11.5" lengthAdjust="spacingAndGlyphs">133</text>
<text x="264.6" y="359.8" class="cb" textLength="7.4" lengthAdjust="spacingAndGlyphs">80</text>
<rect x="99" y="435.4" width="17.2" height="28.1" fill="url(#cbar)"/>
<text x="99.6" y="431.4" class="cb" textLength="26.5" lengthAdjust="spacingAndGlyphs">pH in %</text>
<text x="117.6" y="441.2" class="cb" textLength="11.7" lengthAdjust="spacingAndGlyphs">112</text>
<text x="117.3" y="462.9" class="cb" textLength="8.4" lengthAdjust="spacingAndGlyphs">93</text>
<rect x="246.3" y="434.9" width="17.2" height="28.1" fill="url(#cbar)"/>
<text x="246.9" y="431.4" class="cb" textLength="56.6" lengthAdjust="spacingAndGlyphs">Phosphorus in %</text>
<text x="264.9" y="441.2" class="cb" textLength="11.7" lengthAdjust="spacingAndGlyphs">159</text>
<text x="264.6" y="462.9" class="cb" textLength="8" lengthAdjust="spacingAndGlyphs">49</text>
<g clip-path="url(#c10)">
<path d="M360.19,277.21 L361.24,282.91 L344.96,287.91 L348.33,298.03 L331.47,304.77 L334.84,317.22 L323.09,317.68 L323.56,329.89 L354.03,333.85 L338.79,356.99 L318.56,356.41 L319.14,364.9 L383.8,368.5 L385.31,357.69 L406.83,357.69 L406.83,348.5 L402.18,348.5 L402.18,353.15 L394.04,353.15 L394.04,344.31 L408.69,344.31 L409.85,336.17 L431.25,300.82 L427.3,296.4 L425.67,294.65 L413.22,291.86 L405.32,288.49 L398.57,287.33 L387.41,286.16 L376.12,283.37Z" fill="#8c4117"/>
<path d="M345,287 L358,282.5 L360.5,275 L367,278 L364.5,290 L360,296 L352,297.5 L346.5,296Z" fill="#c66d2b"/>
<path d="M372,287 L381,286 L382,292 L375,294Z" fill="#c66d2b"/>
<path d="M338,325 L346,322 L348,314 L355,312 L360,313 L362,318 L360,324 L355,330 L345,332 L338,332Z" fill="#c66d2b"/>
<path d="M367.6,306 L381.4,304.2 L382,307 L368,310Z" fill="#c66d2b"/>
<path d="M402.5,292 L406.7,291.5 L434,299 L434,330 L411,327.8 L401.5,338.4 L392,334 L387.7,317.3 L393,308 L398.3,302.5Z" fill="#c66d2b"/>
<path d="M355,331 L358,325 L370.8,327.8 L381.4,325.7 L387.7,317.3 L395,325 L401.5,338.4 L392,345 L387.7,342.6 L375,347.9 L360.3,342.6 L349.7,344.7 L345,340Z" fill="#c66d2b"/>
<path d="M392,346 L393,336 L402,331 L411,327 L414,330 L411,346Z" fill="#8c4117"/>
<path d="M315,355 L341.4,356 L343,364 L315,367Z" fill="#c66d2b"/>
<ellipse cx="396.7" cy="298.2" rx="1.6" ry="1.8" fill="#1e1f5c"/><ellipse cx="398.8" cy="306.1" rx="1.6" ry="2.3" fill="#1e1f5c"/><rect x="378" y="310" width="2.6" height="6.5" fill="#fff"/><rect x="390" y="311" width="3.5" height="2" fill="#fff"/><rect x="398" y="307" width="2.5" height="2.5" fill="#fff"/><circle cx="331.7" cy="357.9" r="0.9" fill="#1e1f5c"/>
</g>
<circle cx="399.73" cy="295.24" r="3.37" fill="#fff"/>
<rect x="324.4" y="383.9" width="27.6" height="11.7" fill="#cf7b33"/>
<text x="356.1" y="394.1" class="bl" textLength="40.8" lengthAdjust="spacingAndGlyphs">loamy sand</text>
<rect x="324.4" y="398.5" width="27.6" height="11.7" fill="#98461a"/>
<text x="356.1" y="408.4" class="bl" textLength="57.9" lengthAdjust="spacingAndGlyphs">very loamy sand</text>
<rect x="324.4" y="413.5" width="27.6" height="11.7" fill="#5e2410"/>
<text x="356.1" y="422.8" class="bl" textLength="40.8" lengthAdjust="spacingAndGlyphs">sandy loam</text>
<rect x="324.4" y="427.9" width="27.6" height="11.7" fill="#3a5cc0"/>
<text x="356.1" y="437.2" class="bl" textLength="42.9" lengthAdjust="spacingAndGlyphs">loamy moor</text>
<rect x="324.4" y="442.5" width="27.6" height="11.7" fill="#22225e"/>
<text x="356.1" y="451.3" class="bl" textLength="19.2" lengthAdjust="spacingAndGlyphs">moor</text>
<g clip-path="url(#c11)">
<path d="M485,276 L486,285.4 L469.6,288.2 L472.1,298.7 L454.8,305.1 L458,318 L443.8,317.4 L443.8,332.6 L476.7,335.4 L461.5,355.9 L440.2,355.9 L440.2,365.9 L511.8,374.4 L511.8,360.3 L534.2,360.3 L535,346 L559.9,301 L554.3,294.4 L527.4,289.9 L505.1,283.2Z" fill="url(#elev)"/>
<g filter="url(#bl)">
<path d="M505,286C509.5,285.17 521.5,289.17 530,291C538.5,292.83 551,295.17 556,297C561,298.83 561,298.83 560,302C559,305.17 554.67,313.67 550,316C545.33,318.33 537.33,317.83 532,316C526.67,314.17 522.83,308.33 518,305C513.17,301.67 505.17,299.17 503,296C500.83,292.83 500.5,286.83 505,286Z" fill="#c0aaa3"/>
<path d="M518,293C518.67,291.75 521.17,290.67 523,290.5C524.83,290.33 527.83,290.92 529,292C530.17,293.08 530.33,295.33 530,297C529.67,298.67 528.33,300.67 527,302C525.67,303.33 523.67,304.83 522,305C520.33,305.17 517.5,304.17 517,303C516.5,301.83 518.83,299.67 519,298C519.17,296.33 517.33,294.25 518,293Z" fill="#a98078"/>
<path d="M521,295C521.58,294.08 523.92,293.33 525,293.5C526.08,293.67 527.5,295 527.5,296C527.5,297 526,299 525,299.5C524,300 522.17,299.75 521.5,299C520.83,298.25 520.42,295.92 521,295Z" fill="#b8958c"/>
<path d="M445,310C448.67,305.17 457.5,304 465,304C472.5,304 482.83,307 490,310C497.17,313 505.5,317 508,322C510.5,327 509.33,336 505,340C500.67,344 489.83,346 482,346C474.17,346 464.5,342.17 458,340C451.5,337.83 445.17,338 443,333C440.83,328 441.33,314.83 445,310Z" fill="#b58276"/>
<path d="M443,318C445.83,314.67 454.67,315.5 460,316C465.33,316.5 471.83,318.17 475,321C478.17,323.83 481.5,330.33 479,333C476.5,335.67 466,336.5 460,337C454,337.5 445.83,339.17 443,336C440.17,332.83 440.17,321.33 443,318Z" fill="#c07666"/>
<path d="M440,327C442,325.17 449,326 452,327C455,328 458,331.17 458,333C458,334.83 455,337.17 452,338C449,338.83 442,339.83 440,338C438,336.17 438,328.83 440,327Z" fill="#cc8a66"/>
<path d="M462,338C464.67,334.67 472.5,333.17 478,333C483.5,332.83 489.67,334.83 495,337C500.33,339.17 508,342.5 510,346C512,349.5 512,356.17 507,358C502,359.83 487.5,357.83 480,357C472.5,356.17 465,356.17 462,353C459,349.83 459.33,341.33 462,338Z" fill="#d49c5e"/>
<path d="M438,354 L462,352 L480,356 L500,362 L514,368 L514,378 L438,378Z" fill="#e6c458"/>
<path d="M460,357C460.83,354.67 465.5,354.17 467,356C468.5,357.83 469.83,365.67 469,368C468.17,370.33 463.5,371.83 462,370C460.5,368.17 459.17,359.33 460,357Z" fill="#a8c480"/>
</g>
<rect x="520.7" y="347" width="6.7" height="6.6" fill="#fff"/>
</g>
<text x="460.2" y="389.7" class="el" textLength="45.8" lengthAdjust="spacingAndGlyphs">Elevation [m]</text>
<rect x="460.5" y="393.4" width="25.3" height="30.2" fill="url(#eleg)" stroke="#d0d0d8" stroke-width="0.4"/>
<text x="488" y="399.2" class="el" textLength="28.6" lengthAdjust="spacingAndGlyphs" style="font-size:6.6px">High: 27.7</text>
<text x="488" y="423.6" class="el" textLength="26" lengthAdjust="spacingAndGlyphs" style="font-size:6.6px">Low:  3.4</text>
</svg>
</body></html>
